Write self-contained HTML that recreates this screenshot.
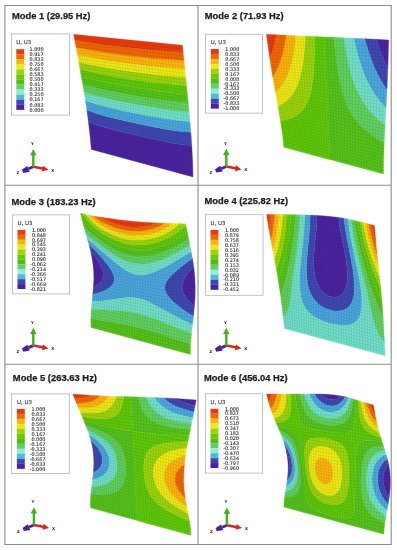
<!DOCTYPE html>
<html><head><meta charset="utf-8"><title>Mode shapes</title><style>
html,body{margin:0;padding:0;background:#fff;}
body{width:397px;height:550px;overflow:hidden;}
svg{display:block;}
.tt{font-family:"Liberation Sans",Arial,sans-serif;font-weight:bold;font-size:9.6px;fill:#1c1c1c;stroke:#1c1c1c;stroke-width:0.25px;}
.lg{font-family:"DejaVu Sans",sans-serif;font-size:5.5px;fill:#383838;stroke:#383838;stroke-width:0.12px;}
.lv{font-family:"DejaVu Sans",sans-serif;font-size:4.9px;fill:#383838;stroke:#383838;stroke-width:0.12px;text-anchor:end;}
.ax{font-family:"DejaVu Sans",sans-serif;font-weight:bold;font-size:3.9px;fill:#222;text-anchor:middle;}
.lb{fill:#fff;stroke:#b4b4b4;stroke-width:0.8;}
.tk{fill:none;stroke:#aaa;stroke-width:0.4;}
.mesh{fill:none;stroke:#000;stroke-opacity:0.17;stroke-width:0.42;}
.fr path{fill:none;stroke:#8c8c8c;stroke-width:1.1;}
</style></head><body>
<svg width="397" height="550" viewBox="0 0 397 550">
<text x="12.1" y="18.7" class="tt" textLength="78.3" lengthAdjust="spacingAndGlyphs">Mode 1 (29.95 Hz)</text>
<rect x="11.4" y="33.9" width="58.20" height="81.20" class="lb"/>
<text x="16.3" y="44.20" class="lg">U, U3</text>
<rect x="16.3" y="49.20" width="7.9" height="5.10" fill="#E83A10"/>
<rect x="16.3" y="54.25" width="7.9" height="5.10" fill="#F06800"/>
<rect x="16.3" y="59.30" width="7.9" height="5.10" fill="#FAB40C"/>
<rect x="16.3" y="64.35" width="7.9" height="5.10" fill="#EEE814"/>
<rect x="16.3" y="69.40" width="7.9" height="5.10" fill="#9CD40C"/>
<rect x="16.3" y="74.45" width="7.9" height="5.10" fill="#6CC800"/>
<rect x="16.3" y="79.50" width="7.9" height="5.10" fill="#50BC14"/>
<rect x="16.3" y="84.55" width="7.9" height="5.10" fill="#60D060"/>
<rect x="16.3" y="89.60" width="7.9" height="5.10" fill="#90ECD4"/>
<rect x="16.3" y="94.65" width="7.9" height="5.10" fill="#50B8E0"/>
<rect x="16.3" y="99.70" width="7.9" height="5.10" fill="#4048B0"/>
<rect x="16.3" y="104.75" width="7.9" height="5.10" fill="#4A20A8"/>
<text x="43.60" y="50.95" class="lv">1.000</text>
<text x="43.60" y="56.00" class="lv">0.917</text>
<text x="43.60" y="61.05" class="lv">0.833</text>
<text x="43.60" y="66.10" class="lv">0.750</text>
<text x="43.60" y="71.15" class="lv">0.667</text>
<text x="43.60" y="76.20" class="lv">0.583</text>
<text x="43.60" y="81.25" class="lv">0.500</text>
<text x="43.60" y="86.30" class="lv">0.417</text>
<text x="43.60" y="91.35" class="lv">0.333</text>
<text x="43.60" y="96.40" class="lv">0.250</text>
<text x="43.60" y="101.45" class="lv">0.167</text>
<text x="43.60" y="106.50" class="lv">0.083</text>
<text x="43.60" y="111.55" class="lv">0.000</text>
<path d="M24.2 49.20h1.8M24.2 54.25h1.8M24.2 59.30h1.8M24.2 64.35h1.8M24.2 69.40h1.8M24.2 74.45h1.8M24.2 79.50h1.8M24.2 84.55h1.8M24.2 89.60h1.8M24.2 94.65h1.8M24.2 99.70h1.8M24.2 104.75h1.8M24.2 109.80h1.8" class="tk"/>
<path fill="#4a1fa3" d="M32.75 165.51L27.97 167.54L29.06 170.12L33.85 168.09Z"/>
<path fill="#4a1fa3" d="M27.30 165.98L21.96 169.77L23.29 172.90L29.73 171.69Z"/>
<path fill="#d22a1a" d="M33.07 168.03L42.20 169.77L41.88 171.44L48.53 169.70L42.99 165.65L42.67 167.32L33.53 165.57Z"/>
<path fill="#3cb31c" d="M34.50 166.80L34.50 155.30L36.50 155.30L33.30 149.00L30.10 155.30L32.10 155.30L32.10 166.80Z"/>
<text x="32.40" y="144.80" class="ax">Y</text>
<text x="52.80" y="171.50" class="ax">X</text>
<text x="17.80" y="174.40" class="ax">Z</text>
<path fill="#4C24A0" stroke="#4C24A0" stroke-width="0.35" d="M91.3 149.4L90 135.6L88.4 121.7L97.6 125.2L105.8 127.8L122.7 132.2L145.6 137.6L161.8 141.1L172.9 143.3L181.5 144.6L191.8 145.5L192.6 161.3L193 176.9L91.3 149.4Z"/>
<path fill="#4048B0" stroke="#4048B0" stroke-width="0.35" d="M89.6 122.2L88.4 121.7L86.8 110.1L97.2 113.7L106.7 116.4L122.5 120.3L141.7 124.5L155.1 127.2L170.4 130L179.1 131.2L190.9 132.3L191.8 145.5L181.5 144.6L172.9 143.3L163.1 141.4L146.9 137.9L123.9 132.5L107 128.1L98.8 125.6L89.6 122.2Z"/>
<path fill="#4AA6DC" stroke="#4AA6DC" stroke-width="0.35" d="M86.8 110.1L85.4 100.6L97 104.2L106.5 106.8L121.2 110.2L139.2 114L152.7 116.5L168 119L178.1 120.4L190 121.5L190.9 132.3L179.1 131.2L170.4 130L155.1 127.2L141.7 124.5L122.5 120.3L106.7 116.4L97.2 113.7L86.8 110.1Z"/>
<path fill="#70DEC8" stroke="#70DEC8" stroke-width="0.35" d="M86.5 101L85.4 100.6L84 92.2L95.6 95.5L106.4 98.2L121.3 101.5L136.8 104.5L150.2 106.9L165.6 109.3L175.7 110.5L189.1 111.9L190 121.5L178.1 120.4L168 119L154 116.7L140.6 114.2L122.5 110.5L107.7 107.1L97 104.2L86.5 101Z"/>
<path fill="#60D060" stroke="#60D060" stroke-width="0.35" d="M85.2 92.5L84 92.2L82.7 84.3L95.5 87.7L106.4 90.2L120.1 93L134.3 95.7L147.8 97.9L163.2 100.1L174.8 101.5L188.3 102.9L189.1 111.9L175.7 110.5L165.6 109.3L151.6 107.1L138.1 104.7L121.3 101.5L107.6 98.5L96.8 95.8L85.2 92.5Z"/>
<path fill="#56C21C" stroke="#56C21C" stroke-width="0.35" d="M82.7 84.3L81.3 76.7L94.2 79.8L106.3 82.5L118.9 84.9L133.2 87.4L146.7 89.5L160.8 91.4L172.4 92.7L187.4 94.2L188.3 102.9L174.8 101.5L163.2 100.1L147.8 97.9L134.3 95.7L120.1 93L106.4 90.2L95.5 87.7L82.7 84.3Z"/>
<path fill="#60C80A" stroke="#60C80A" stroke-width="0.35" d="M81.3 76.7L80 69.3L92.9 72.2L105.1 74.7L117.7 77L132.1 79.4L145.7 81.3L159.8 83.1L186.6 85.7L187.4 94.2L172.4 92.7L160.8 91.4L146.7 89.5L133.2 87.4L118.9 84.9L106.3 82.5L94.2 79.8L81.3 76.7Z"/>
<path fill="#9CD40C" stroke="#9CD40C" stroke-width="0.35" d="M80 69.3L78.7 62L92.9 65L105.1 67.3L117.8 69.4L131 71.4L157.3 74.7L185.7 77.3L186.6 85.7L159.8 83.1L145.7 81.3L132.1 79.4L117.7 77L105.1 74.7L92.9 72.2L80 69.3Z"/>
<path fill="#EEE814" stroke="#EEE814" stroke-width="0.35" d="M78.7 62L77.4 54.8L103.9 59.7L128.5 63.4L154.9 66.4L184.9 69L185.7 77.3L157.3 74.7L131 71.4L117.8 69.4L105.1 67.3L92.9 65L78.7 62Z"/>
<path fill="#FAB40C" stroke="#FAB40C" stroke-width="0.35" d="M77.4 54.8L76 47.5L102.6 52L127.3 55.5L153.8 58.3L184 60.6L184.9 69L154.9 66.4L128.5 63.4L103.9 59.7L77.4 54.8Z"/>
<path fill="#F06800" stroke="#F06800" stroke-width="0.35" d="M76 47.5L74.7 40.1L101.4 44.4L126.2 47.6L151.4 49.9L183.1 52.1L184 60.6L153.8 58.3L127.3 55.5L102.6 52L76 47.5Z"/>
<path fill="#E83A10" stroke="#E83A10" stroke-width="0.35" d="M74.7 40.1L73.6 34.3L182.4 45.3L183.1 52.1L151.4 49.9L126.2 47.6L101.4 44.4L74.7 40.1Z"/>
<path class="mesh" d="M93.5 150L91.4 127.9L88.3 105.4L84.6 82.5L75.9 34.5M95.7 150.6L93.6 128.4L90.6 105.9L86.8 82.9L78.3 34.8M98 151.2L95.8 128.9L92.8 106.4L89.1 83.4L80.6 35M100.2 151.8L98.1 129.5L95.1 106.9L91.5 83.8L83 35.2M102.5 152.4L100.4 130L97.4 107.4L93.8 84.2L85.4 35.5M104.8 153L102.7 130.6L99.8 107.9L96.2 84.6L87.8 35.7M107.1 153.7L105 131.2L102.1 108.4L98.5 85L90.3 36M109.4 154.3L107.4 131.7L104.5 108.8L100.9 85.4L92.7 36.2M111.7 154.9L109.7 132.3L106.9 109.3L103.3 85.8L95.2 36.5M114.1 155.6L112.1 132.9L109.3 109.8L105.8 86.3L97.7 36.8M116.5 156.2L114.5 133.4L111.7 110.3L108.2 86.7L100.2 37M118.9 156.9L116.9 134L114.1 110.9L110.7 87.1L102.7 37.3M121.3 157.5L119.3 134.6L116.6 111.4L113.1 87.6L105.2 37.5M123.7 158.2L121.8 135.2L119 111.9L115.6 88L107.8 37.8M126.1 158.8L124.3 135.8L121.5 112.4L118.2 88.4L110.4 38.1M128.6 159.5L126.7 136.4L124 112.9L120.7 88.9L113 38.3M131 160.2L129.2 137L126.6 113.4L123.3 89.3L115.6 38.6M133.5 160.8L131.8 137.6L129.1 114L125.9 89.8L118.3 38.9M136 161.5L134.3 138.2L131.7 114.5L128.5 90.2L121 39.1M138.5 162.2L136.8 138.8L134.3 115L131.1 90.7L123.7 39.4M141.1 162.9L139.4 139.4L136.9 115.6L133.7 91.1L126.4 39.7M143.6 163.6L142 140L139.5 116.1L136.4 91.6L129.1 40M146.2 164.3L144.6 140.6L142.1 116.6L139.1 92L131.9 40.2M148.8 165L147.2 141.3L144.8 117.2L141.8 92.5L134.6 40.5M151.4 165.7L149.9 141.9L147.5 117.7L144.5 93L137.4 40.8M154.1 166.4L152.5 142.5L150.2 118.3L147.2 93.5L140.3 41.1M156.7 167.1L155.2 143.2L152.9 118.9L150 93.9L143.1 41.4M159.4 167.8L157.9 143.8L155.7 119.4L152.8 94.4L146 41.7M162.1 168.6L160.7 144.5L158.4 120L155.6 94.9L148.9 42M164.8 169.3L163.4 145.1L161.2 120.6L158.4 95.4L151.8 42.3M167.5 170L166.2 145.8L164 121.1L161.3 95.9L154.8 42.6M170.3 170.8L169 146.4L166.9 121.7L164.2 96.4L157.7 42.9M173 171.5L171.8 147.1L169.7 122.3L167.1 96.8L160.7 43.2M175.8 172.3L174.6 147.8L172.6 122.9L170 97.3L163.7 43.5M178.6 173L177.5 148.4L175.5 123.5L172.9 97.8L166.8 43.8M181.5 173.8L180.4 149.1L178.4 124.1L175.9 98.4L169.9 44.1M184.3 174.6L183.3 149.8L181.4 124.7L178.9 98.9L173 44.4M187.2 175.4L186.2 150.5L184.4 125.3L181.9 99.4L176.1 44.7M190.1 176.1L189.1 151.2L187.4 125.9L185 99.9L179.2 45M91 146.6L192.9 173.8M90.8 143.9L192.9 170.7M90.6 141.1L192.8 167.6M90.3 138.4L192.7 164.4M90 135.6L192.6 161.3M89.8 132.8L192.4 158.2M89.5 130.1L192.3 155M89.1 127.3L192.1 151.9M88.8 124.5L191.9 148.7M88.4 121.8L191.8 145.6M88.1 119L191.6 142.4M87.7 116.2L191.4 139.2M87.3 113.4L191.1 136.1M86.9 110.6L190.9 132.9M86.5 107.8L190.7 129.7M86.1 105L190.4 126.5M85.6 102.2L190.1 123.3M85.2 99.3L189.9 120M84.7 96.5L189.6 116.8M84.3 93.6L189.3 113.5M83.8 90.8L189 110.3M83.3 87.9L188.7 107M82.8 85L188.4 103.7M82.3 82.1L188.1 100.4M81.8 79.2L187.7 97.1M81.3 76.3L187.4 93.8M80.7 73.4L187.1 90.4M80.2 70.5L186.7 87M79.7 67.5L186.4 83.7M79.2 64.6L186 80.3M78.6 61.6L185.7 76.9M78.1 58.6L185.3 73.4M77.5 55.6L185 70M77 52.6L184.6 66.5M76.4 49.6L184.2 63M75.9 46.6L183.9 59.5M75.3 43.5L183.5 56M74.7 40.4L183.1 52.5M74.2 37.4L182.8 48.9"/>
<text x="204.8" y="18.7" class="tt" textLength="78.8" lengthAdjust="spacingAndGlyphs">Mode 2 (71.93 Hz)</text>
<rect x="205.6" y="34.3" width="56.90" height="78.80" class="lb"/>
<text x="210.85" y="44.00" class="lg">U, U3</text>
<rect x="210.85" y="49.00" width="7.9" height="5.02" fill="#E83A10"/>
<rect x="210.85" y="53.97" width="7.9" height="5.02" fill="#F06800"/>
<rect x="210.85" y="58.93" width="7.9" height="5.02" fill="#FAB40C"/>
<rect x="210.85" y="63.90" width="7.9" height="5.02" fill="#EEE814"/>
<rect x="210.85" y="68.87" width="7.9" height="5.02" fill="#9CD40C"/>
<rect x="210.85" y="73.83" width="7.9" height="5.02" fill="#6CC800"/>
<rect x="210.85" y="78.80" width="7.9" height="5.02" fill="#50BC14"/>
<rect x="210.85" y="83.77" width="7.9" height="5.02" fill="#60D060"/>
<rect x="210.85" y="88.73" width="7.9" height="5.02" fill="#90ECD4"/>
<rect x="210.85" y="93.70" width="7.9" height="5.02" fill="#50B8E0"/>
<rect x="210.85" y="98.67" width="7.9" height="5.02" fill="#4048B0"/>
<rect x="210.85" y="103.63" width="7.9" height="5.02" fill="#4A20A8"/>
<text x="239.35" y="50.75" class="lv">1.000</text>
<text x="239.35" y="55.72" class="lv">0.833</text>
<text x="239.35" y="60.68" class="lv">0.667</text>
<text x="239.35" y="65.65" class="lv">0.500</text>
<text x="239.35" y="70.62" class="lv">0.333</text>
<text x="239.35" y="75.58" class="lv">0.167</text>
<text x="239.35" y="80.55" class="lv">0.000</text>
<text x="239.35" y="85.52" class="lv">-0.167</text>
<text x="239.35" y="90.48" class="lv">-0.333</text>
<text x="239.35" y="95.45" class="lv">-0.500</text>
<text x="239.35" y="100.42" class="lv">-0.667</text>
<text x="239.35" y="105.38" class="lv">-0.833</text>
<text x="239.35" y="110.35" class="lv">-1.000</text>
<path d="M218.8 49.00h1.8M218.8 53.97h1.8M218.8 58.93h1.8M218.8 63.90h1.8M218.8 68.87h1.8M218.8 73.83h1.8M218.8 78.80h1.8M218.8 83.77h1.8M218.8 88.73h1.8M218.8 93.70h1.8M218.8 98.67h1.8M218.8 103.63h1.8M218.8 108.60h1.8" class="tk"/>
<path fill="#4a1fa3" d="M225.75 165.21L220.97 167.24L222.06 169.82L226.85 167.79Z"/>
<path fill="#4a1fa3" d="M220.30 165.68L214.96 169.47L216.29 172.60L222.73 171.39Z"/>
<path fill="#d22a1a" d="M226.07 167.73L235.20 169.47L234.88 171.14L241.53 169.40L235.99 165.35L235.67 167.02L226.53 165.27Z"/>
<path fill="#3cb31c" d="M227.50 166.50L227.50 155.00L229.50 155.00L226.30 148.70L223.10 155.00L225.10 155.00L225.10 166.50Z"/>
<text x="225.40" y="144.50" class="ax">Y</text>
<text x="245.80" y="171.20" class="ax">X</text>
<text x="210.80" y="174.10" class="ax">Z</text>
<path fill="#4C24A0" stroke="#4C24A0" stroke-width="0.35" d="M376.9 41.3L376.3 39.3L388.7 40L387.9 68L385.2 62.4L382.8 57.1L380 50L376.9 41.3Z"/>
<path fill="#4048B0" stroke="#4048B0" stroke-width="0.35" d="M365.4 41.7L364.6 38.7L376.3 39.3L382.1 55.3L385.2 62.4L387.9 68L387 89.7L383.5 84.7L380.2 79.2L377.4 73.8L374.9 68.5L372.6 63.2L370.1 56.5L365.4 41.7Z"/>
<path fill="#4AA6DC" stroke="#4AA6DC" stroke-width="0.35" d="M354 40L353.7 38.2L364.6 38.7L369.4 54.4L372 61.4L374.8 68.3L377.4 73.8L380.2 79.2L383.5 84.7L387 89.7L386 108L380 101.4L375.6 95.6L371 88.3L366.6 79.9L362.8 70.8L359.9 62.2L356.9 51.9L354 40Z"/>
<path fill="#70DEC8" stroke="#70DEC8" stroke-width="0.35" d="M344.5 44.8L343.4 37.8L353.7 38.2L356.9 51.9L359.9 62.2L362.8 70.8L366.4 79.5L371 88.3L375.6 95.6L380 101.4L386 108L385.1 125.1L377.7 119.1L373.9 115.4L370.3 111.5L367.2 107.8L364.6 104.1L361.6 99.5L358.7 94.1L356 88.3L354.2 83.8L350.7 73L347.8 61.3L344.5 44.8Z"/>
<path fill="#60D060" stroke="#60D060" stroke-width="0.35" d="M335.5 54.4L333.5 37.3L343.4 37.8L346.7 56.3L349.8 69.7L351.7 76.4L353.4 81.5L355.3 86.6L357.5 91.7L360.2 97L363.1 101.9L365.8 105.9L368.9 109.9L372 113.4L376.2 117.7L380.5 121.5L385.1 125.1L384.2 142.9L378.3 139.6L372.6 135.9L368.3 132.8L364 129.2L359.8 125.1L355.8 120.4L352.7 116.1L349.9 111.5L347.4 106.4L345.3 101.4L343 94.7L341.2 88.2L339.8 81.6L338.2 73.5L335.5 54.4Z"/>
<path fill="#56C21C" stroke="#56C21C" stroke-width="0.35" d="M283.8 147L330.2 159.5L324 36.9L333.5 37.3L336.7 63.7L338.2 73.5L339.8 81.6L341.7 89.8L343.6 96.4L345.9 103L348.1 108.1L351.3 113.9L354.4 118.6L358.4 123.5L362.6 127.9L366.9 131.6L372.6 135.9L378.3 139.6L384.2 142.9L383.6 159.9L383.5 174L283.8 147Z"/>
<path fill="#60C80A" stroke="#60C80A" stroke-width="0.35" d="M283.8 147L282.6 134.9L280.4 120.9L284.7 120.1L289 119L292.8 117.5L296.5 115.5L299.5 113.3L302.1 110.7L304.3 108L306.4 104.4L308.8 99.1L310.5 93.5L311.7 87.7L312.8 80.3L313.7 71.2L314.2 62L314.6 36.5L324 36.9L330.2 159.5L283.8 147Z"/>
<path fill="#9CD40C" stroke="#9CD40C" stroke-width="0.35" d="M280.4 120.9L277.9 106.3L281.2 104.6L284.2 102.6L287.3 100.1L289.7 97.7L291.7 95.2L294.3 91.3L295.8 88.6L297.6 84.5L299.1 80.3L300.3 76L302.5 65.6L304 53.4L305.3 36.1L314.6 36.5L314.2 60.4L313.8 69.7L313.1 77.3L312.2 84.8L311.1 90.6L309.7 96.4L308.2 100.5L306.4 104.6L304 108.4L301 111.8L297.8 114.6L294.5 116.6L290.1 118.6L285.8 119.9L280.4 120.9Z"/>
<path fill="#EEE814" stroke="#EEE814" stroke-width="0.35" d="M277.9 106.3L275.4 92.2L279.6 87.9L283.4 82.8L286.3 77.4L288.7 71.8L291 64.6L292.7 57.2L294.3 48.1L295.9 35.7L305.3 36.1L304 53.4L302.5 65.6L300.3 76L299.1 80.3L297.6 84.5L295.8 88.6L294.3 91.3L291.7 95.2L289.7 97.7L287.3 100.1L284.2 102.6L281.2 104.6L277.9 106.3Z"/>
<path fill="#FAB40C" stroke="#FAB40C" stroke-width="0.35" d="M275.4 92.2L272.7 76.9L275 73.3L277.1 69.2L278.9 65L280.5 60.6L282.2 54.9L283.7 49L286.3 35.2L295.9 35.7L294.3 48.1L292.7 57.2L291 64.6L288.7 71.8L286.3 77.4L283.4 82.8L279.6 87.9L275.4 92.2Z"/>
<path fill="#F06800" stroke="#F06800" stroke-width="0.35" d="M272.7 76.9L269.8 58.5L271.4 54.1L273.2 48.2L276.4 34.7L286.3 35.2L283.7 49L282.2 54.9L280.5 60.6L278.9 65L277.1 69.2L275 73.3L272.7 76.9Z"/>
<path fill="#E83A10" stroke="#E83A10" stroke-width="0.35" d="M269.8 58.5L266.4 34.2L276.4 34.7L273.2 48.2L271.4 54.1L269.8 58.5Z"/>
<path class="mesh" d="M286 147.6L284.9 136.8L283.4 126.1L274.2 70.4L269.1 34.4M288.2 148.2L287.1 137.4L285.7 126.6L276.8 70.6L271.8 34.5M290.4 148.8L289.4 137.9L288 127.1L279.3 70.9L274.5 34.6M292.6 149.3L291.6 138.5L290.3 127.6L281.9 71.1L277.2 34.8M294.8 150L293.9 139.1L292.6 128.1L284.6 71.4L280 34.9M297.1 150.6L294.9 128.7L287.2 71.7L282.8 35.1M299.3 151.2L297.2 129.2L289.8 71.9L285.6 35.2M301.6 151.8L299.6 129.7L292.5 72.2L288.4 35.3M303.9 152.4L301.9 130.2L295.2 72.5L291.2 35.5M306.2 153L304.3 130.8L297.9 72.7L294.1 35.6M308.5 153.7L306.7 131.3L300.6 73L297 35.7M310.9 154.3L309.1 131.8L299.9 35.9M313.2 154.9L311.5 132.4L302.9 36M315.6 155.6L314 132.9L305.8 36.1M318 156.2L316.4 133.5L308.8 36.3M320.4 156.9L318.9 134.1L311.8 36.4M322.8 157.5L314.8 36.5M325.2 158.2L317.9 36.7M327.7 158.9L320.9 36.8M330.2 159.5L324 36.9M332.6 160.2L327.1 37.1M335.1 160.9L330.2 37.2M337.7 161.6L333.3 37.3M340.2 162.2L339.4 138.7L336.5 37.5M342.8 162.9L342 139.3L339.6 37.6M345.4 163.6L344.6 139.9L342.8 37.7M347.9 164.3L347.3 140.5L346 37.9M350.6 165L350 141.1L349.2 38M353.2 165.8L352.7 141.7L352.4 38.2M355.9 166.5L355.5 142.3L355.7 78.4L355.7 38.3M358.5 167.2L358.2 142.9L358.8 78.7L358.9 38.5M361.2 167.9L361 143.5L361.9 79.1L362.1 38.6M363.9 168.7L363.8 144.2L365 79.4L365.4 38.8M366.7 169.4L366.6 144.8L368.1 79.7L368.7 38.9M369.4 170.2L369.4 145.4L371.3 80L372 39.1M372.2 170.9L372.3 146.1L374.5 80.3L375.3 39.3M375 171.7L374.9 159.4L375.2 146.7L377.6 80.6L378.6 39.4M377.8 172.4L377.8 160.1L378.1 147.4L380.9 81L382 39.6M380.7 173.2L380.6 160.8L381 148L384.1 81.3L385.3 39.8M283.6 144.3L383.5 170.9M283.3 141.6L383.5 167.8M283.1 138.9L383.5 164.7M282.7 136.3L383.5 161.5M282.4 133.6L383.6 158.3M282 130.9L383.7 155.1M281.6 128.3L383.8 151.9M281.2 125.6L383.9 148.7M280.8 122.9L384 145.4M280.3 120.2L384.2 142.2M279.9 117.5L384.4 138.9M279.4 114.8L384.5 135.6M279 112.1L384.7 132.3M278.5 109.4L384.9 128.9M278 106.7L385.1 125.6M277.5 103.9L385.2 122.3M277 101.2L385.4 118.9M276.5 98.4L385.6 115.6M276 95.7L385.8 112.2M275.5 92.9L386 108.8M275 90.1L386.2 105.5M274.5 87.3L386.3 102.1M274 84.4L386.5 98.7M273.5 81.6L386.7 95.3M273.1 78.7L386.9 91.9M272.6 75.9L387 88.5M272.1 73L387.2 85M271.6 70.1L387.3 81.6M271.2 67.2L387.5 78.2M270.7 64.3L387.6 74.7M270.2 61.3L387.8 71.3M269.8 58.4L387.9 67.9M269.4 55.4L388 64.4M268.9 52.4L388.1 60.9M268.5 49.4L388.2 57.5M268.1 46.4L388.3 54M267.6 43.4L388.4 50.5M267.2 40.3L388.5 47M266.8 37.3L388.6 43.5"/>
<text x="11.5" y="204.6" class="tt" textLength="84.2" lengthAdjust="spacingAndGlyphs">Mode 3 (183.23 Hz)</text>
<rect x="12.4" y="214.9" width="57.20" height="79.00" class="lb"/>
<text x="17.5" y="224.90" class="lg">U, U3</text>
<rect x="17.5" y="229.90" width="7.9" height="4.97" fill="#E83A10"/>
<rect x="17.5" y="234.83" width="7.9" height="4.97" fill="#F06800"/>
<rect x="17.5" y="239.75" width="7.9" height="4.97" fill="#FAB40C"/>
<rect x="17.5" y="244.68" width="7.9" height="4.97" fill="#EEE814"/>
<rect x="17.5" y="249.60" width="7.9" height="4.97" fill="#9CD40C"/>
<rect x="17.5" y="254.53" width="7.9" height="4.97" fill="#6CC800"/>
<rect x="17.5" y="259.45" width="7.9" height="4.97" fill="#50BC14"/>
<rect x="17.5" y="264.38" width="7.9" height="4.97" fill="#60D060"/>
<rect x="17.5" y="269.30" width="7.9" height="4.97" fill="#90ECD4"/>
<rect x="17.5" y="274.23" width="7.9" height="4.97" fill="#50B8E0"/>
<rect x="17.5" y="279.15" width="7.9" height="4.97" fill="#4048B0"/>
<rect x="17.5" y="284.07" width="7.9" height="4.97" fill="#4A20A8"/>
<text x="46.00" y="231.65" class="lv">1.000</text>
<text x="46.00" y="236.58" class="lv">0.848</text>
<text x="46.00" y="241.50" class="lv">0.697</text>
<text x="46.00" y="246.43" class="lv">0.545</text>
<text x="46.00" y="251.35" class="lv">0.393</text>
<text x="46.00" y="256.27" class="lv">0.241</text>
<text x="46.00" y="261.20" class="lv">0.090</text>
<text x="46.00" y="266.12" class="lv">-0.062</text>
<text x="46.00" y="271.05" class="lv">-0.214</text>
<text x="46.00" y="275.98" class="lv">-0.366</text>
<text x="46.00" y="280.90" class="lv">-0.517</text>
<text x="46.00" y="285.82" class="lv">-0.669</text>
<text x="46.00" y="290.75" class="lv">-0.821</text>
<path d="M25.4 229.90h1.8M25.4 234.83h1.8M25.4 239.75h1.8M25.4 244.68h1.8M25.4 249.60h1.8M25.4 254.53h1.8M25.4 259.45h1.8M25.4 264.38h1.8M25.4 269.30h1.8M25.4 274.23h1.8M25.4 279.15h1.8M25.4 284.07h1.8M25.4 289.00h1.8" class="tk"/>
<path fill="#4a1fa3" d="M32.75 344.31L27.97 346.34L29.06 348.92L33.85 346.89Z"/>
<path fill="#4a1fa3" d="M27.30 344.78L21.96 348.57L23.29 351.70L29.73 350.49Z"/>
<path fill="#d22a1a" d="M33.07 346.83L42.20 348.57L41.88 350.24L48.53 348.50L42.99 344.45L42.67 346.12L33.53 344.37Z"/>
<path fill="#3cb31c" d="M34.50 345.60L34.50 334.10L36.50 334.10L33.30 327.80L30.10 334.10L32.10 334.10L32.10 345.60Z"/>
<text x="32.40" y="323.60" class="ax">Y</text>
<text x="52.80" y="350.30" class="ax">X</text>
<text x="17.80" y="353.20" class="ax">Z</text>
<path fill="#4C24A0" stroke="#4C24A0" stroke-width="0.35" d="M93.4 286.7L93.9 278.1L93.7 271L92.6 261.2L90.8 251.5L94.8 256.4L99 262.8L100.6 266L102 269.1L102.9 272.1L103.1 273.5L103.2 276.4L102.9 277.7L101.9 280.4L101.1 281.6L99.6 283.2L97.6 284.7L95.5 285.9L93.4 286.7ZM182.6 290.4L182.2 288.2L182.2 285L182.9 281.9L184.1 278.9L185.8 276L187.9 273.1L190.4 270.2L193.8 267.1L194.8 277L195.2 286.6L195.1 296.4L194.4 306.4L189.9 302.3L186.6 298.5L184.3 294.9L183.5 293.2L182.6 290.4Z"/>
<path fill="#4048B0" stroke="#4048B0" stroke-width="0.35" d="M92.7 294.3L93.4 286.7L95.5 285.9L97.6 284.7L99.6 283.2L101.1 281.6L101.9 280.4L102.9 277.7L103.2 276.4L103.1 273.5L102.9 272.1L102 269.1L100.6 266L99 262.8L94.8 256.4L90.8 251.5L89 244.7L94.5 249.8L97.8 253.2L103.7 259.9L107.8 265L110.1 268.3L112.1 271.5L113.6 274.7L114.3 277.7L114.3 280.6L113.4 283.3L111.7 285.8L109 288.1L105.6 290.2L101.3 292.1L96.9 293.4L92.7 294.3ZM164.8 289L164.7 287.2L164.8 285.7L165.8 282.7L167.5 279.9L169.7 277.1L173.8 273.1L180.1 267.6L187.1 262.1L192.5 258.5L193.8 267.1L189.1 271.7L186.8 274.5L184.9 277.4L183.4 280.4L182.9 281.9L182.2 285L182.1 286.6L182.5 289.8L182.9 291.5L184.1 294.5L185.4 296.7L187.1 299.1L189.9 302.3L194.4 306.4L193.5 316.2L187.7 312.8L182.8 309.5L177.2 305.2L172.6 301.2L169 297.3L167.6 295.5L165.6 292L164.8 289Z"/>
<path fill="#4AA6DC" stroke="#4AA6DC" stroke-width="0.35" d="M92 301.6L92.7 294.3L96.9 293.4L101.3 292.1L105.6 290.2L109 288.1L111.7 285.8L113.4 283.3L114.3 280.6L114.3 277.7L114 276.2L112.9 273.1L111.2 269.9L109 266.6L105.1 261.6L99.4 254.9L94.5 249.8L89 244.7L87.3 239.1L98.1 248L111.6 259.6L121.6 267.5L126.7 270.7L130.5 272.7L134.3 274L138.1 274.8L142 275L145.8 274.6L149.7 273.6L156.2 271.1L162.9 267.9L172.5 262.8L191.2 251.4L192.5 258.5L187.1 262.1L181.8 266.3L175.3 271.7L171 275.8L168.5 278.5L166.5 281.3L165.2 284.2L164.7 287.2L165.1 290.4L166.5 293.8L167.6 295.5L170.7 299.2L174.8 303.1L179.9 307.3L186.1 311.7L193.5 316.2L192.5 324.8L179.6 318.6L149.6 302.4L144.4 300.1L139.3 298.5L136.7 298L133 297.5L126.9 297.6L102.8 300.9L97.4 301.4L92 301.6Z"/>
<path fill="#70DEC8" stroke="#70DEC8" stroke-width="0.35" d="M91.3 309.2L92 301.6L97.4 301.4L102.8 300.9L126.9 297.6L133 297.5L136.7 298L139.3 298.5L144.4 300.1L149.6 302.4L179.6 318.6L192.5 324.8L191.6 333.5L181.5 329.7L163.6 322.2L154.2 318.5L146.4 315.8L138.8 313.6L131.3 312.1L122.9 311L114.7 310.4L98.9 309.8L91.3 309.2ZM88.5 240.1L87.3 239.1L85.6 233L91.6 238.2L103.7 247.4L111.1 252.6L117.3 256.6L122.4 259.2L127.4 261.4L132.5 262.8L137.6 263.7L142.8 263.9L148.1 263.4L153.3 262.3L160.1 260.2L166.9 257.5L173.9 254.1L189.9 245L191.2 251.4L172.5 262.8L162.9 267.9L156.2 271.1L149.7 273.6L145.8 274.6L142 275L138.1 274.8L134.3 274L130.5 272.7L126.7 270.7L121.6 267.5L111.6 259.6L98.1 248L88.5 240.1Z"/>
<path fill="#60D060" stroke="#60D060" stroke-width="0.35" d="M90.8 318.5L91.3 309.2L98.9 309.8L114.7 310.4L124.1 311.1L132.6 312.3L140 314L147.7 316.2L155.6 319L181.5 329.7L191.6 333.5L190.6 344.1L179.3 340.6L157.5 333.4L138.3 327.8L130.9 326L118.9 323.5L99.5 320.2L90.8 318.5ZM86.8 234.2L85.6 233L83.8 226.2L89.8 232.2L94.7 236.2L103.3 242.4L111.9 247.8L118.2 251.1L124.5 253.7L129.6 255.2L136.1 256.3L142.6 256.5L147.9 256L154.5 254.7L161.4 252.7L166.9 250.6L172.6 248L178.3 244.9L188.7 238.7L189.9 245L173.9 254.1L166.9 257.5L160.1 260.2L153.3 262.3L148.1 263.4L142.8 263.9L137.6 263.7L132.5 262.8L127.4 261.4L122.4 259.2L117.3 256.6L111.1 252.6L103.7 247.4L92.4 238.9L86.8 234.2Z"/>
<path fill="#56C21C" stroke="#56C21C" stroke-width="0.35" d="M91 327.4L90.8 318.5L99.5 320.2L120.1 323.7L132.1 326.3L140.8 328.4L158.2 333.6L179.3 340.6L190.6 344.1L190.4 354.4L91 327.4ZM85 227.4L83.8 226.2L81.9 219L89.3 227L93.8 231.2L99.1 235.3L106.6 240.1L114.1 244.2L117.9 245.9L121.7 247.3L128 249.2L134.5 250.2L141.1 250.5L147.7 249.9L154.5 248.5L161.3 246.5L166.9 244.4L172.6 241.7L177 239.1L187.3 232.3L188.7 238.7L178.3 244.9L172.6 248L166.9 250.6L161.4 252.7L154.5 254.7L147.9 256L142.6 256.5L136.1 256.3L129.6 255.2L124.5 253.7L119.5 251.7L113.2 248.5L104.5 243.2L95.9 237.1L91.1 233.2L85 227.4Z"/>
<path fill="#60C80A" stroke="#60C80A" stroke-width="0.35" d="M83.1 220.3L81.9 219L80.5 213.4L82.1 213.6L87.2 220.3L91.3 224.7L96.3 229.1L102.5 233.4L110 237.7L117.5 241.1L123.9 243.2L127.8 244.1L131.7 244.7L135.6 245L139.6 245.1L146.2 244.6L153 243.3L161.3 240.8L167 238.5L172.7 235.4L177.1 232.5L186 225.5L187.3 232.3L177 239.1L172.6 241.7L166.9 244.4L160 247L153.1 248.9L146.4 250.1L139.7 250.5L133.2 250.1L126.8 248.9L120.4 246.9L114.1 244.2L106.6 240.1L99.1 235.3L93.8 231.2L89.3 227L83.1 220.3Z"/>
<path fill="#9CD40C" stroke="#9CD40C" stroke-width="0.35" d="M82.5 214.1L82.1 213.6L86.1 214.5L90 219.5L94.6 223.9L97.1 225.9L100.7 228.4L107.1 232.1L113.4 235.1L119.8 237.4L126.3 239L131.5 239.8L136.7 240.1L142.1 240L147.5 239.3L154.3 237.8L158.5 236.5L162.7 234.9L168.5 232L173.7 228.4L178.9 223.6L185.7 223.9L186 225.5L177.1 232.5L172.7 235.4L167 238.5L161.3 240.8L153 243.3L146.2 244.6L139.6 245.1L133 244.8L126.5 243.8L122.6 242.8L118.8 241.6L111.2 238.3L103.7 234.2L97.5 230.1L92.5 225.9L87.5 220.6L82.5 214.1Z"/>
<path fill="#EEE814" stroke="#EEE814" stroke-width="0.35" d="M87 215.7L86.1 214.5L89.7 215.3L92.9 218.7L97.9 222.8L104.2 226.7L110.6 229.8L115.7 231.8L120.8 233.4L126 234.6L131.3 235.3L136.6 235.5L142 235.3L146 234.8L151.5 233.6L157.1 232L162.8 229.6L167.1 227.2L171.8 223.4L178.9 223.6L174.2 228L169.9 231.1L165.6 233.6L159.9 236L153 238.1L146.1 239.5L139.4 240.1L132.8 240L126.3 239L119.8 237.4L113.4 235.1L107.1 232.1L100.8 228.5L95.6 224.7L90.8 220.3L87 215.7Z"/>
<path fill="#FAB40C" stroke="#FAB40C" stroke-width="0.35" d="M90.3 216L89.7 215.3L94.2 216.2L97.5 218.8L102.6 222L107.7 224.6L114.1 227.2L119.3 228.9L123.2 229.8L127.1 230.5L131.1 231L135.1 231.2L139.1 231.1L146 230.3L151.5 229.1L155.7 227.7L159.9 226L164.6 223.2L171.8 223.4L168.5 226.2L164.2 228.9L159.9 230.9L154.3 232.9L148.8 234.3L143.3 235.1L137.9 235.5L131.3 235.3L126 234.6L119.5 233L114.4 231.3L108 228.6L103 226L97.9 222.8L94.2 219.8L90.3 216Z"/>
<path fill="#F06800" stroke="#F06800" stroke-width="0.35" d="M95 216.9L94.2 216.2L101.1 217.3L108.6 221.1L116.4 224.1L124.3 226.1L130.9 227L137.7 227.1L144.5 226.4L151.5 224.8L156.4 222.9L164.6 223.2L161.4 225.2L157.1 227.2L152.9 228.7L148.7 229.8L144.6 230.6L140.5 231L136.4 231.2L131.1 231L127.1 230.5L121.9 229.5L118 228.5L112.8 226.7L107.7 224.6L102.6 222L98.8 219.7L95 216.9Z"/>
<path fill="#E83A10" stroke="#E83A10" stroke-width="0.35" d="M102.2 218L101.1 217.3L118.3 219.7L134 221.4L144.3 222.2L156.4 222.9L151.5 224.8L144.5 226.4L137.7 227.1L130.9 227L124.3 226.1L116.4 224.1L108.6 221.1L102.2 218Z"/>
<path class="mesh" d="M93.1 328L93 316.9L95.7 281.6L95.5 270.1L94 258.9L91.6 247.8L88.4 236.8L82.4 213.7M95.3 328.6L95.2 317.4L97.7 282.1L97.4 270.6L95.9 259.4L93.6 248.3L90.3 237.1L84.1 214M97.5 329.2L97.4 318L99.7 282.7L99.4 271.1L97.9 259.9L95.5 248.7L85.8 214.4M99.7 329.8L99.6 318.6L101.7 283.2L101.3 271.7L99.8 260.4L97.5 249.2L87.5 214.8M101.9 330.4L101.8 319.2L103.7 283.8L103.3 272.2L101.8 260.8L99.4 249.6L89.3 215.2M104.2 331L104 319.7L105.7 284.3L105.3 272.7L103.8 261.3L101.5 250L98.3 238.8L91 215.6M106.4 331.6L106.3 320.3L107.5 296.7L107.8 284.9L107.4 273.2L105.9 261.8L103.5 250.5L100.3 239.2L92.9 215.9M108.7 332.2L108.5 320.9L109.7 297.2L110 285.4L109.5 273.7L108 262.3L105.6 250.9L102.4 239.6L94.8 216.3M111 332.9L110.8 321.5L111.9 297.8L112.1 285.9L111.6 274.2L110.1 262.8L107.7 251.4L104.5 240L96.8 216.6M113.3 333.5L113.1 322.1L114.1 298.4L114.3 286.5L113.8 274.7L112.3 263.2L109.9 251.8L106.7 240.4L98.8 217M115.6 334.1L115.4 322.7L116.4 298.9L116.5 287L116 275.3L114.5 263.7L112 252.2L108.8 240.8L101 217.3M117.9 334.7L117.7 323.3L118.6 299.5L118.8 287.5L118.2 275.8L116.7 264.2L114.3 252.7L111 241.2L103.1 217.6M120.3 335.4L120.1 323.9L121 300L121.1 288L120.5 276.2L118.9 264.6L116.5 253.1L113.3 241.6L105.4 218M122.6 336L122.4 324.5L123.3 300.6L123.4 288.6L122.8 276.7L121.2 265.1L118.8 253.5L115.6 242L107.6 218.3M125 336.7L124.8 325.1L125.7 301.1L125.7 289.1L125.1 277.2L123.6 265.5L121.1 254L117.9 242.3L114.1 230.6L109.9 218.6M127.4 337.3L127.2 325.7L128 301.7L128.1 289.6L127.5 277.7L126 266L123.5 254.4L120.3 242.7L116.5 230.9L112.2 218.9M129.8 338L129.6 326.4L130.5 302.2L130.5 290.1L129.9 278.2L128.4 266.4L125.9 254.8L122.7 243.1L118.9 231.3L114.6 219.2M132.3 338.6L132.1 327L132.9 302.8L133 290.6L132.4 278.7L130.8 266.9L128.4 255.2L125.2 243.5L121.4 231.6L117 219.5M134.7 339.3L134.5 327.6L135.4 303.3L135.5 291.2L134.8 279.2L133.3 267.3L130.9 255.6L127.7 243.8L123.9 232L119.5 219.9M137.2 340L137 328.2L137.9 303.9L138 291.7L137.4 279.6L135.9 267.8L133.5 256L130.3 244.2L126.5 232.3L122 220.2M139.6 340.6L139.5 328.9L140.4 304.4L140.5 292.2L139.9 280.1L138.4 268.2L136.1 256.4L132.9 244.5L129.1 232.6L124.6 220.5M142.1 341.3L142 329.5L143 305L143.1 292.7L142.5 280.6L141.1 268.6L138.7 256.8L135.6 244.9L131.8 232.9L127.2 220.7M144.7 342L144.6 330.2L145.5 305.5L145.7 293.2L145.1 281L143.7 269L141.4 257.1L138.3 245.2L134.5 233.2L129.8 221M147.2 342.7L147.1 330.8L148.1 306.1L148.3 293.7L147.8 281.5L146.4 269.4L144.1 257.5L141 245.6L137.2 233.5L132.6 221.3M149.8 343.4L149.7 331.4L150.8 306.6L151 294.2L150.5 281.9L149.2 269.8L146.9 257.9L143.8 245.9L140.1 233.8L135.4 221.6M152.3 344.1L152.3 332.1L153.4 307.2L153.7 294.7L153.3 282.4L151.9 270.2L149.7 258.2L146.7 246.2L143 234.1L138.3 221.8M154.9 344.8L154.9 332.8L156.1 307.7L156.4 295.2L156 282.8L154.8 270.6L152.6 258.6L149.6 246.5L145.9 234.3L141.2 222M157.5 345.5L157.5 333.4L158.9 308.3L159.2 295.7L158.9 283.2L157.6 271L155.5 258.9L152.5 246.8L148.9 234.6L144.3 222.2M160.2 346.2L160.2 334.1L161.6 308.8L162 296.1L161.7 283.7L160.5 271.4L158.4 259.3L155.5 247.1L151.9 234.8L147.4 222.4M162.8 346.9L162.9 334.8L164.4 309.3L164.8 296.6L164.6 284.1L163.5 271.8L161.4 259.6L158.6 247.4L155 235.1L150.6 222.6M165.5 347.6L165.6 335.4L167.2 309.9L167.7 297.1L167.5 284.5L166.4 272.2L164.4 259.9L161.6 247.7L158.2 235.3L153.9 222.8M168.2 348.3L168.3 336.1L170 310.4L170.6 297.6L170.4 285L169.4 272.5L167.5 260.2L164.8 248L161.4 235.5L157.2 223M170.9 349.1L171 336.8L172.9 311L173.5 298.1L173.4 285.4L172.5 272.9L170.6 260.6L167.9 248.2L164.6 235.8L160.7 223.1M173.6 349.8L173.8 337.5L175.8 311.5L176.5 298.6L176.4 285.8L175.5 273.3L173.7 260.9L171.1 248.5L167.9 236L164.1 223.2M176.3 350.6L176.6 338.2L178.7 312.1L179.4 299L179.5 286.2L178.6 273.6L176.9 261.2L174.3 248.8L171.2 236.2L167.7 223.3M179.1 351.3L179.4 338.8L181.6 312.6L182.5 299.5L182.6 286.6L181.8 274L180.1 261.5L177.6 249L171.3 223.4M181.9 352.1L182.2 339.5L184.6 313.2L185.5 300L185.7 287L185 274.3L183.3 261.8L180.9 249.3L175 223.5M184.7 352.8L185.1 340.3L187.6 313.7L188.6 300.4L188.8 287.4L188.2 274.7L186.6 262.1L184.3 249.5L178.6 223.6M187.5 353.6L187.9 341L190.6 314.3L191.7 300.9L192 287.8L191.4 275L189.9 262.4L187.6 249.8L182.2 223.8M90.8 324.7L190.4 351.3M90.8 322L190.4 348.1M90.8 319.2L190.6 344.9M90.9 316.3L137 328.2L190.8 341.7M91 313.4L137.1 325.2L191.1 338.4M91.2 310.5L137.2 322.2L191.4 335.1M91.5 307.6L137.3 319.2L191.7 331.7M91.7 304.7L137.4 316.1L192.1 328.3M92 301.7L118.3 308.5L137.5 313.1L158.3 317.8L192.5 325M92.3 298.8L118.4 305.5L137.7 310L158.5 314.6L192.9 321.6M92.5 295.8L118.5 302.5L137.8 306.9L158.7 311.4L193.3 318.2M92.8 292.9L118.6 299.5L137.9 303.9L158.9 308.3L193.6 314.8M93.1 289.9L118.7 296.5L137.9 300.8L159 305.1L194 311.4M93.3 287L118.8 293.5L138 297.8L159.1 301.9L194.3 308.1M93.6 284L118.8 290.5L138 294.7L159.2 298.8L194.6 304.7M93.8 281.1L118.8 287.5L138 291.7L159.2 295.7L194.8 301.4M93.9 278.1L109.9 282.5L118.7 284.6L137.9 288.6L159.2 292.5L195 298.1M93.9 275.3L109.8 279.5L118.6 281.6L137.8 285.6L159.1 289.4L195.1 294.8M93.8 272.4L109.7 276.6L118.4 278.7L137.6 282.6L159 286.3L195.2 291.5M93.6 269.6L109.5 273.7L118.2 275.8L137.4 279.6L158.9 283.2L195.2 288.2M93.3 266.8L109.2 270.9L117.9 272.8L137.1 276.6L158.6 280.2L195.2 285M93 264L108.8 268L117.6 269.9L136.7 273.7L158.4 277.1L195.1 281.8M92.6 261.2L117.2 267L136.3 270.7L158 274.1L194.9 278.6M92.1 258.4L116.7 264.2L135.9 267.8L157.6 271L194.7 275.4M91.6 255.7L116.2 261.3L135.4 264.8L157.2 268L194.4 272.2M91.1 252.9L115.6 258.4L134.8 261.9L156.7 265L194 269M90.5 250.1L114.9 255.5L134.2 258.9L156.1 261.9L193.6 265.9M89.8 247.4L114.3 252.7L133.5 256L155.5 258.9L193.2 262.7M89 244.6L113.5 249.8L132.7 253L154.8 255.9L192.7 259.5M88.2 241.9L112.7 246.9L132 250.1L154.1 252.9L192.1 256.4M87.3 239.1L111.9 244.1L131.2 247.2L153.4 249.8L191.6 253.2M86.5 236.3L111 241.2L130.3 244.2L152.5 246.8L191 250M85.7 233.5L110.1 238.3L129.4 241.2L151.7 243.8L190.3 246.8M84.9 230.7L109.2 235.4L128.5 238.3L150.8 240.7L189.7 243.6M84.2 227.9L108.3 232.5L127.5 235.3L149.9 237.7L189 240.4M83.5 225L107.3 229.5L126.5 232.3L148.9 234.6L188.3 237.2M82.7 222.1L97.8 225.1L106.3 226.6L125.4 229.3L147.8 231.5L187.7 233.9M82 219.2L96.8 222.2L105.2 223.6L124.3 226.2L135 227.4L159.4 229.3L187 230.6M81.2 216.3L95.8 219.3L104.2 220.6L123.2 223.2L133.9 224.4L158.4 226.1L186.3 227.3"/>
<text x="204.5" y="203.9" class="tt" textLength="83.5" lengthAdjust="spacingAndGlyphs">Mode 4 (225.82 Hz)</text>
<rect x="205.4" y="214.7" width="57.65" height="80.60" class="lb"/>
<text x="210.5" y="224.90" class="lg">U, U3</text>
<rect x="210.5" y="229.90" width="7.9" height="5.03" fill="#E83A10"/>
<rect x="210.5" y="234.88" width="7.9" height="5.03" fill="#F06800"/>
<rect x="210.5" y="239.87" width="7.9" height="5.03" fill="#FAB40C"/>
<rect x="210.5" y="244.85" width="7.9" height="5.03" fill="#EEE814"/>
<rect x="210.5" y="249.83" width="7.9" height="5.03" fill="#9CD40C"/>
<rect x="210.5" y="254.82" width="7.9" height="5.03" fill="#6CC800"/>
<rect x="210.5" y="259.80" width="7.9" height="5.03" fill="#50BC14"/>
<rect x="210.5" y="264.78" width="7.9" height="5.03" fill="#60D060"/>
<rect x="210.5" y="269.77" width="7.9" height="5.03" fill="#90ECD4"/>
<rect x="210.5" y="274.75" width="7.9" height="5.03" fill="#50B8E0"/>
<rect x="210.5" y="279.73" width="7.9" height="5.03" fill="#4048B0"/>
<rect x="210.5" y="284.72" width="7.9" height="5.03" fill="#4A20A8"/>
<text x="239.00" y="231.65" class="lv">1.000</text>
<text x="239.00" y="236.63" class="lv">0.879</text>
<text x="239.00" y="241.62" class="lv">0.758</text>
<text x="239.00" y="246.60" class="lv">0.637</text>
<text x="239.00" y="251.58" class="lv">0.516</text>
<text x="239.00" y="256.57" class="lv">0.395</text>
<text x="239.00" y="261.55" class="lv">0.274</text>
<text x="239.00" y="266.53" class="lv">0.153</text>
<text x="239.00" y="271.52" class="lv">0.032</text>
<text x="239.00" y="276.50" class="lv">-0.089</text>
<text x="239.00" y="281.48" class="lv">-0.210</text>
<text x="239.00" y="286.47" class="lv">-0.331</text>
<text x="239.00" y="291.45" class="lv">-0.452</text>
<path d="M218.4 229.90h1.8M218.4 234.88h1.8M218.4 239.87h1.8M218.4 244.85h1.8M218.4 249.83h1.8M218.4 254.82h1.8M218.4 259.80h1.8M218.4 264.78h1.8M218.4 269.77h1.8M218.4 274.75h1.8M218.4 279.73h1.8M218.4 284.72h1.8M218.4 289.70h1.8" class="tk"/>
<path fill="#4a1fa3" d="M225.75 344.31L220.97 346.34L222.06 348.92L226.85 346.89Z"/>
<path fill="#4a1fa3" d="M220.30 344.78L214.96 348.57L216.29 351.70L222.73 350.49Z"/>
<path fill="#d22a1a" d="M226.07 346.83L235.20 348.57L234.88 350.24L241.53 348.50L235.99 344.45L235.67 346.12L226.53 344.37Z"/>
<path fill="#3cb31c" d="M227.50 345.60L227.50 334.10L229.50 334.10L226.30 327.80L223.10 334.10L225.10 334.10L225.10 345.60Z"/>
<text x="225.40" y="323.60" class="ax">Y</text>
<text x="245.80" y="350.30" class="ax">X</text>
<text x="210.80" y="353.20" class="ax">Z</text>
<path fill="#4C24A0" stroke="#4C24A0" stroke-width="0.35" d="M315.7 279.1L314.9 275.7L314.2 271.1L313.8 266.5L313.7 260.5L314.4 248.3L316.6 226.6L317 215.4L328.4 216.2L338.6 217.4L340.1 229.2L345.2 254.3L347.1 267.4L347.5 273.8L347.3 280.1L346.7 284.7L345.4 288.8L344.2 291.3L342.9 293.2L341.6 294.5L339.2 296.1L337.5 296.7L335.4 297.1L332.8 297L330.3 296.5L327.7 295.5L325.1 293.9L323.1 292.2L321.2 290.2L319.9 288.5L318 285.3L316.7 282L315.7 279.1Z"/>
<path fill="#4048B0" stroke="#4048B0" stroke-width="0.35" d="M307.8 284.8L307.2 280.8L306.7 276.3L306.5 270.3L306.6 264.6L307.3 253.9L309.6 229.4L310.2 215.1L317 215.4L316.6 226.6L314.2 249.8L313.7 262L313.9 268.1L314.4 272.7L315.2 277.3L316.7 282L318.9 286.9L321.2 290.2L322.5 291.7L323.8 292.9L326.4 294.8L330.3 296.5L332.8 297L335.4 297.1L337.5 296.7L339.2 296.1L341.7 294.4L343 293.1L344.7 290.5L345.4 288.8L346.3 286.2L347.2 281.6L347.5 275.4L347.2 269L346.5 262.6L345.5 256L340.7 232.6L339.6 225.9L338.6 217.4L343.9 218.3L345.8 231.9L351.7 262.3L353.3 272.2L354 278.7L354.5 286.7L354.2 293L353.8 296L353.1 299L351.4 303.3L350.4 304.8L349.2 306.4L346.9 308.4L344 309.9L341.5 310.7L337.6 311.1L333.8 310.9L330 310.1L326.2 308.8L322.4 306.9L319.8 305.2L317.3 303.1L314.3 299.8L312.1 296.6L310.3 293.1L309.2 290L307.8 284.8Z"/>
<path fill="#4AA6DC" stroke="#4AA6DC" stroke-width="0.35" d="M300.3 293.2L299.8 288.7L299.6 284.3L299.5 278.4L299.8 272.6L300.6 262.4L303.9 230.7L304.7 214.9L310.2 215.1L309.7 227.8L307.1 255.4L306.6 264.3L306.5 270.3L306.8 277.8L307.6 283.8L309.2 290L310.8 294.1L312.1 296.6L314.3 299.8L316 301.8L318.6 304.2L321.1 306.1L323.6 307.6L326.2 308.8L330 310.1L333.8 310.9L336.3 311.1L338.9 311.1L342.4 310.4L345 309.5L346.9 308.4L349.2 306.4L350.6 304.6L351.7 302.7L352.6 300.4L353.8 296L354.3 291.4L354.4 285.2L353.9 277.1L352.8 268.9L350.7 257.3L346.1 233.6L343.9 218.3L347.9 219.1L349.3 229.4L350.8 238L359.3 278.6L360.6 286.9L361.4 293.4L361.9 301.4L361.8 306.1L361.5 309.2L361 312.2L360.2 315.1L359.4 317L358.1 319.3L355.8 321.8L352.9 323.7L348.9 324.9L346.3 325.3L343.7 325.4L338.6 325.1L332.2 324L325.9 322.3L319.7 319.8L316 317.9L312.2 315.4L308.5 312.1L306 309L303.8 305.3L302.5 302.1L301.1 297.6L300.3 293.2Z"/>
<path fill="#70DEC8" stroke="#70DEC8" stroke-width="0.35" d="M284.3 328.4L283.1 316.2L285.1 314.7L286.1 313.5L287.1 311.8L288.5 308L289.6 302.7L292.6 279.1L296.6 250.2L298.2 238.2L299.2 227.4L299.8 214.8L304.7 214.9L303.9 230.7L300.3 265.3L299.7 274.1L299.5 281.3L299.8 288.7L300.8 296.1L302.5 302.1L304.7 306.9L306 309L308.5 312.1L311 314.5L314.7 317.1L318.4 319.2L322.2 320.9L327.2 322.7L332.2 324L337.3 325L341.1 325.3L345 325.4L348.9 324.9L351.6 324.2L354.2 323L356.8 320.9L358.1 319.3L359.4 317L360.2 315.1L361.3 310.7L361.9 304.6L361.7 296.7L360.8 288.5L359.3 278.6L350.8 238L348.4 222.5L347.9 219.1L351.3 219.8L353.4 233.7L356.3 247.5L367.1 292L374.2 322.1L376.2 328.9L378.6 334.3L380.1 336.8L381.6 338.8L384.5 341.9L385 355.7L284.3 328.4Z"/>
<path fill="#60D060" stroke="#60D060" stroke-width="0.35" d="M283.1 316.2L280.4 294.4L282.6 289.1L285.1 281.1L287.6 271.2L290.1 258.8L292.1 247L293.8 234.9L294.7 225.7L295.3 214.7L299.8 214.8L299.2 227.4L298.2 238.2L296.6 250.2L292.6 279.1L289.6 302.7L288.5 308L287.1 311.8L286.1 313.5L285.1 314.7L283.1 316.2ZM352.6 228.7L351.3 219.8L354.3 220.5L356.4 232.8L359 245L362.4 258.9L366.4 272.8L370.7 286.5L375.4 299.9L379.4 309.6L383.1 317.1L384.5 341.9L381.6 338.8L380.1 336.8L378.6 334.3L376.2 328.9L374.6 323.8L372.9 317.1L366.7 290.3L357.1 250.9L354.4 238.9L352.6 228.7Z"/>
<path fill="#56C21C" stroke="#56C21C" stroke-width="0.35" d="M280.4 294.4L278.2 280.1L280.7 273.6L282.8 266.9L284.7 259.8L286.6 251.1L288.2 242.3L289.4 233.3L290.4 224.1L291 214.7L295.3 214.7L294.7 225.7L293.8 234.9L292.1 247L290.1 258.8L287.6 271.2L285.1 281.1L282.6 289.1L280.4 294.4ZM356 230.4L354.3 220.5L357.2 221.2L359.1 231.8L361.4 242.4L364.1 252.9L367.2 263.5L370.7 274.1L374.1 283.2L377.7 292L381.9 300.8L383.1 317.1L380.1 311L376.5 302.6L372.3 291.2L368.5 279.8L364.4 265.9L361.1 253.7L358.2 241.5L356 230.4Z"/>
<path fill="#60C80A" stroke="#60C80A" stroke-width="0.35" d="M278.2 280.1L276.3 268.9L278.1 263.9L280 258L281.5 252.3L283.1 245.1L285.3 231.6L286.9 214.6L291 214.7L290.4 224.1L289.4 233.3L288.2 242.3L286.6 251.1L284.7 259.8L282.8 266.9L280.7 273.6L278.2 280.1ZM357.7 223.8L357.2 221.2L360 221.9L362.1 232.6L364.1 241.5L366.3 249.6L368.6 257.5L371.2 265.2L374.3 273.6L377.5 281.3L380.7 288.1L381.9 300.8L378.5 293.8L374.7 284.8L370.9 274.7L367.7 265.2L364.6 254.7L361.8 244.1L359.9 235.3L357.7 223.8Z"/>
<path fill="#9CD40C" stroke="#9CD40C" stroke-width="0.35" d="M276.3 268.9L274.5 259.1L277.5 249.2L279.7 239L281.4 228.5L282.8 214.6L286.9 214.6L285.3 231.6L283.1 245.1L281.5 252.3L280 258L278.1 263.9L276.3 268.9ZM361.2 228L360 221.9L362.8 222.5L366.4 238.7L369.8 251.3L374.1 264L377 271.3L379.5 276.8L380.7 288.1L377.5 281.3L374.4 273.7L369.5 260.4L367 252.1L365 245L362.9 236.3L361.2 228Z"/>
<path fill="#EEE814" stroke="#EEE814" stroke-width="0.35" d="M274.5 259.1L272.7 249.6L274.7 241.8L276.2 234.4L277.6 225.3L278.7 214.5L282.8 214.6L281.4 228.5L279.7 239L277.5 249.2L274.5 259.1ZM363 223.8L362.8 222.5L365.6 223.2L368.5 235.9L371.5 246.8L374.4 255.9L378.3 265.9L379.5 276.8L377 271.3L374.1 264L369.8 251.3L366.4 238.7L363 223.8Z"/>
<path fill="#FAB40C" stroke="#FAB40C" stroke-width="0.35" d="M272.7 249.6L270.8 239.6L272 234.3L273 228.3L274.7 214.5L278.7 214.5L277.6 225.3L276.2 234.4L274.7 241.8L272.7 249.6ZM366.7 228.1L365.6 223.2L368.5 223.9L372.6 240.4L374.7 247.8L377 254.5L378.3 265.9L375 257.6L372 248.6L369.4 239.6L366.7 228.1Z"/>
<path fill="#F06800" stroke="#F06800" stroke-width="0.35" d="M270.8 239.6L268.8 228.3L270.6 214.5L274.7 214.5L273 228.3L272 234.3L270.8 239.6ZM368.6 224.6L368.5 223.9L371.4 224.7L375.8 241.5L377 254.5L374.7 247.8L372.6 240.4L368.6 224.6Z"/>
<path fill="#E83A10" stroke="#E83A10" stroke-width="0.35" d="M268.8 228.3L266.6 214.4L270.6 214.5L268.8 228.3ZM372.4 228.5L371.4 224.7L374.4 225.4L375.8 241.5L372.4 228.5Z"/>
<path class="mesh" d="M286.4 329L284.3 307.1L281.5 284.8L279.8 273.5L271.6 226.7L269.8 214.5M288.7 329.6L286.7 307.6L284.1 285.2L282.5 273.8L276.7 238.9L272.9 214.5M290.9 330.2L289 308.1L286.7 285.5L283.5 262.5L276.1 214.5M293.1 330.8L290.5 297.2L288 274.3L279.3 214.6M295.4 331.4L293 297.7L290.7 274.6L282.6 214.6M297.6 332L295.5 298.1L293.5 274.9L285.8 214.6M299.9 332.7L298.1 298.5L296.3 275.2L295 263.4L289 214.7M302.2 333.3L300.6 298.9L299 275.5L297.9 263.6L292.3 214.7M304.5 333.9L303.2 299.3L301.8 275.8L300.8 263.8L295.5 214.7M306.9 334.5L305.3 287.9L304.6 276L302.5 252L298.7 214.8M309.2 335.2L308.7 323.8L308 288.3L307.4 276.4L305.5 252.2L301.9 214.9M311.6 335.8L311.1 324.3L310.6 288.7L310.2 276.7L308.4 252.4L305 214.9M314 336.5L313.6 324.9L313.3 289.1L312.9 277L311.3 252.6L308.1 215M316.4 337.1L316 325.5L315.9 289.5L315.6 277.4L314.2 252.9L311.2 215.1M318.8 337.8L318.4 326.1L318.6 289.9L318.4 277.7L317.1 253.1L314.2 215.2M321.2 338.4L320.9 326.8L321.2 290.4L321.1 278.1L319.9 253.4L317.2 215.4M323.6 339.1L323.4 327.4L323.8 290.8L323.7 278.5L322.7 253.7L320.1 215.6M326.1 339.8L325.9 328L326.4 291.3L326.4 278.9L325.4 254L322.9 215.7M328.6 340.4L328.4 328.6L329 291.8L329 279.3L328.1 254.4L325.7 216M331.1 341.1L330.9 329.3L331.6 292.3L331.6 279.8L330.8 254.8L328.4 216.2M333.6 341.8L333.4 329.9L334.2 292.8L334.2 280.3L333.3 255.2L331 216.5M336.1 342.5L335.9 330.6L336.7 293.4L336.7 280.8L335.9 255.6L333.5 216.8M338.7 343.2L338.5 331.2L339.2 293.9L339.2 281.3L338.3 256L336 217.1M341.3 343.9L341.1 331.9L341.7 294.5L341.7 281.9L340.8 256.5L338.5 217.4M343.9 344.6L343.7 332.6L344.2 295.1L344.1 282.5L343.2 257L340.8 217.8M346.5 345.3L346.3 333.2L346.7 295.7L346.6 283.1L345.6 257.6L343.1 218.2M349.1 346L348.9 333.9L349.2 296.4L349 283.7L347.9 258.1L345.4 218.6M351.7 346.7L351.5 334.6L351.7 297L351.4 284.3L350.2 258.7L347.7 219M354.4 347.4L354.2 335.3L354.2 297.7L353.9 285L352.5 259.3L349.9 219.5M357.1 348.1L356.6 298.4L356.3 285.7L354.8 260L352 220M359.8 348.9L359.4 311.7L358.7 286.4L358 273.5L354.2 220.5M362.5 349.6L361.9 312.5L361.1 287.1L360.4 274.2L356.4 221M365.3 350.4L364.5 313.2L363.6 287.8L358.6 221.5M368 351.1L367.1 313.9L366 288.5L360.8 222M370.8 351.9L369.8 314.7L368.5 289.2L363 222.6M373.6 352.6L372.4 315.4L371 290L365.2 223.1M376.4 353.4L375.6 328.7L374.4 303.5L372.4 277.8L367.4 223.7M379.3 354.2L378.4 329.5L377 304.3L376 291.5L372.2 252L369.7 224.2M382.2 354.9L381.2 330.2L379.6 305L372 224.8M284 325.7L385 352.6M283.8 323L384.9 349.6M283.5 320.3L330.9 332.3L384.7 346.5M283.2 317.6L330.9 329.3L384.6 343.4M282.9 314.8L330.9 326.2L384.5 340.3M282.6 312.1L311 318.5L330.9 323.2L351.5 328.4L384.3 337.2M282.3 309.4L311 315.5L331 320.2L351.6 325.3L384.2 334.1M281.9 306.6L311 312.6L331.1 317.1L351.6 322.2L384 331M281.6 303.9L311 309.6L331.2 314L351.6 319.1L383.8 327.9M281.3 301.1L310.9 306.6L331.2 310.9L351.6 316L383.6 324.8M280.9 298.4L310.9 303.7L331.3 307.8L351.7 312.8L383.4 321.6M280.5 295.6L310.9 300.7L331.4 304.7L351.7 309.7L383.2 318.5M280.1 292.8L310.8 297.7L331.5 301.6L351.7 306.5L383 315.3M279.8 290.1L310.8 294.7L331.5 298.5L351.7 303.4L382.8 312.2M279.3 287.3L310.7 291.7L331.6 295.4L341.7 297.7L351.7 300.2L382.6 309M278.9 284.5L310.6 288.7L331.6 292.3L341.7 294.5L351.7 297L382.3 305.8M278.5 281.7L310.5 285.7L321.2 287.3L331.6 289.2L341.7 291.4L351.6 293.9L382 302.6M278 278.9L310.4 282.7L321.2 284.2L331.6 286.1L341.7 288.2L351.6 290.7L381.8 299.4M277.6 276.1L310.3 279.7L321.1 281.2L331.6 282.9L341.7 285.1L351.5 287.5L381.5 296.2M277.1 273.3L310.2 276.7L321.1 278.1L331.6 279.8L341.7 281.9L351.4 284.3L381.2 293M276.6 270.4L310 273.7L321 275L331.6 276.7L341.6 278.7L351.3 281.2L380.8 289.8M276.1 267.6L309.8 270.6L320.9 271.9L331.5 273.6L341.6 275.6L351.2 278L380.5 286.6M275.6 264.8L309.6 267.6L320.8 268.9L331.4 270.4L341.5 272.4L351.1 274.8L380.2 283.3M275 261.9L309.4 264.6L320.6 265.8L331.3 267.3L341.4 269.3L351 271.6L379.8 280M274.5 259.1L309.2 261.6L320.5 262.7L331.2 264.2L341.2 266.1L350.8 268.4L379.5 276.8M273.9 256.2L308.9 258.5L320.3 259.6L331.1 261L341.1 262.9L350.6 265.2L379.1 273.5M273.4 253.3L308.7 255.5L320.1 256.5L330.9 257.9L341 259.7L350.4 262L378.7 270.2M272.8 250.4L308.4 252.4L319.9 253.4L330.8 254.8L340.8 256.5L350.2 258.7L378.4 266.9M272.3 247.5L308.2 249.4L319.7 250.3L330.6 251.6L340.6 253.3L350 255.5L378 263.5M271.7 244.6L307.9 246.3L319.5 247.2L330.4 248.4L340.4 250.1L349.8 252.2L377.6 260.2M271.2 241.6L307.6 243.2L319.3 244.1L330.2 245.3L340.2 246.9L349.6 249L377.3 256.8M270.6 238.7L307.3 240.1L319 240.9L330 242.1L340 243.7L349.4 245.7L376.9 253.4M270.1 235.7L307 237L318.8 237.8L329.8 238.9L339.8 240.5L349.1 242.4L358.1 244.7L376.6 249.9M269.6 232.7L306.7 233.9L318.5 234.6L329.5 235.7L339.6 237.2L348.9 239.1L357.9 241.4L376.2 246.5M269 229.7L306.4 230.8L318.3 231.5L329.3 232.5L339.4 234L348.7 235.8L357.6 238L375.9 243M268.5 226.7L306.1 227.6L318.1 228.3L329.1 229.3L339.2 230.7L348.5 232.5L375.6 239.5M268 223.6L305.8 224.5L317.8 225.1L328.9 226L339 227.4L348.2 229.2L375.3 236M267.6 220.6L305.6 221.3L317.6 221.9L328.7 222.8L338.8 224.1L348 225.8L375 232.5M267.1 217.5L305.3 218.1L317.4 218.6L328.6 219.5L338.6 220.8L347.8 222.4L374.7 228.9"/>
<text x="12.8" y="381.3" class="tt" textLength="84.2" lengthAdjust="spacingAndGlyphs">Mode 5 (263.63 Hz)</text>
<rect x="11.4" y="393.9" width="57.90" height="79.60" class="lb"/>
<text x="16.9" y="403.90" class="lg">U, U3</text>
<rect x="16.9" y="408.90" width="7.9" height="5.04" fill="#E83A10"/>
<rect x="16.9" y="413.89" width="7.9" height="5.04" fill="#F06800"/>
<rect x="16.9" y="418.88" width="7.9" height="5.04" fill="#FAB40C"/>
<rect x="16.9" y="423.88" width="7.9" height="5.04" fill="#EEE814"/>
<rect x="16.9" y="428.87" width="7.9" height="5.04" fill="#9CD40C"/>
<rect x="16.9" y="433.86" width="7.9" height="5.04" fill="#6CC800"/>
<rect x="16.9" y="438.85" width="7.9" height="5.04" fill="#50BC14"/>
<rect x="16.9" y="443.84" width="7.9" height="5.04" fill="#60D060"/>
<rect x="16.9" y="448.83" width="7.9" height="5.04" fill="#90ECD4"/>
<rect x="16.9" y="453.82" width="7.9" height="5.04" fill="#50B8E0"/>
<rect x="16.9" y="458.82" width="7.9" height="5.04" fill="#4048B0"/>
<rect x="16.9" y="463.81" width="7.9" height="5.04" fill="#4A20A8"/>
<text x="45.40" y="410.65" class="lv">1.000</text>
<text x="45.40" y="415.64" class="lv">0.833</text>
<text x="45.40" y="420.63" class="lv">0.667</text>
<text x="45.40" y="425.62" class="lv">0.500</text>
<text x="45.40" y="430.62" class="lv">0.333</text>
<text x="45.40" y="435.61" class="lv">0.167</text>
<text x="45.40" y="440.60" class="lv">0.000</text>
<text x="45.40" y="445.59" class="lv">-0.167</text>
<text x="45.40" y="450.58" class="lv">-0.333</text>
<text x="45.40" y="455.57" class="lv">-0.500</text>
<text x="45.40" y="460.57" class="lv">-0.667</text>
<text x="45.40" y="465.56" class="lv">-0.833</text>
<text x="45.40" y="470.55" class="lv">-1.000</text>
<path d="M24.8 408.90h1.8M24.8 413.89h1.8M24.8 418.88h1.8M24.8 423.88h1.8M24.8 428.87h1.8M24.8 433.86h1.8M24.8 438.85h1.8M24.8 443.84h1.8M24.8 448.83h1.8M24.8 453.82h1.8M24.8 458.82h1.8M24.8 463.81h1.8M24.8 468.80h1.8" class="tk"/>
<path fill="#4a1fa3" d="M33.35 523.71L28.57 525.74L29.66 528.32L34.45 526.29Z"/>
<path fill="#4a1fa3" d="M27.90 524.18L22.56 527.97L23.89 531.10L30.33 529.89Z"/>
<path fill="#d22a1a" d="M33.67 526.23L42.80 527.97L42.48 529.64L49.13 527.90L43.59 523.85L43.27 525.52L34.13 523.77Z"/>
<path fill="#3cb31c" d="M35.10 525.00L35.10 513.50L37.10 513.50L33.90 507.20L30.70 513.50L32.70 513.50L32.70 525.00Z"/>
<text x="33.00" y="503.00" class="ax">Y</text>
<text x="53.40" y="529.70" class="ax">X</text>
<text x="18.40" y="532.60" class="ax">Z</text>
<path fill="#4C24A0" stroke="#4C24A0" stroke-width="0.35" d="M93.9 462.7L93.7 456.4L93 449.9L94.3 452.4L94.8 453.9L95.4 456.8L95.2 459.6L94.8 460.9L93.9 462.7ZM176.9 399.2L175.6 398.5L196.2 399.9L195 406L184.4 402.6L179.9 400.8L176.9 399.2Z"/>
<path fill="#4048B0" stroke="#4048B0" stroke-width="0.35" d="M93.3 472.6L93.9 462.7L94.8 460.9L95.2 459.6L95.4 456.8L94.8 453.9L94.3 452.4L93 449.9L92.1 445.3L90.9 440.8L95.2 444.8L96.9 446.8L99.1 449.8L100 451.4L101.4 454.5L101.9 456L102.4 459L102.3 461.8L102 463.1L101.1 465.8L100.4 467L98.5 469.2L97 470.5L95.4 471.5L93.3 472.6ZM164 398.2L163.6 397.9L175.6 398.5L178.4 400L182.9 402L187.4 403.7L195 406L193.9 412L183.2 409.1L178.7 407.5L175.8 406.3L172.8 404.8L169.9 403L166.9 400.8L164 398.2Z"/>
<path fill="#4AA6DC" stroke="#4AA6DC" stroke-width="0.35" d="M92.4 479.8L93.3 472.6L95.4 471.5L97 470.5L98.5 469.2L100.4 467L101.1 465.8L102 463.1L102.3 461.8L102.4 459L101.9 456L101.4 454.5L100 451.4L98.2 448.4L96.7 446.5L93.5 443.1L90.9 440.8L89.1 434.7L93.8 437.8L97.4 440.6L100.6 443.5L103.7 447L106 450.3L107.7 453.5L108.8 456.6L109.6 461.1L109.4 465.4L108.7 468.1L107.5 470.7L105.7 473.2L103.2 475.5L99.9 477.4L96.7 478.7L92.4 479.8ZM155.6 399.6L154.2 397.5L163.6 397.9L166.9 400.8L169.9 403L172.8 404.8L175.8 406.3L178.7 407.5L183.2 409.1L193.9 412L192.7 418L185.1 416.3L179.1 414.7L173.1 412.7L169 410.8L165.4 408.7L161.5 405.8L158.6 403.1L155.6 399.6Z"/>
<path fill="#70DEC8" stroke="#70DEC8" stroke-width="0.35" d="M91.6 486.7L92.4 479.8L96.7 478.7L101 476.8L103.2 475.5L104.6 474.4L106.7 472L108.2 469.5L109.1 466.8L109.6 464L109.6 461.1L109.2 458.2L108.3 455.1L106.9 451.9L104.9 448.7L102.2 445.3L98.7 441.8L94.2 438.1L89.1 434.7L87.3 429.6L93.8 432.9L100.5 436.9L105.6 440.7L109.3 444.3L112.1 447.7L114.8 452.6L116.5 457.4L117.1 460.5L117.4 463.5L117.5 466.4L117.2 469.3L116.2 473.4L115 476L114.3 477.3L113.4 478.5L111.3 480.7L108 483L103.6 484.8L98.1 486.1L91.6 486.7ZM147.4 400.4L146 397.2L154.2 397.5L157.1 401.4L160.3 404.8L164.4 408.1L168.7 410.7L173.1 412.7L179.1 414.7L185.1 416.3L192.7 418L191.5 423.8L180.9 422L173.5 420.3L167.6 418.5L161.9 415.8L157.6 413.1L155.7 411.6L153.2 409.2L150.3 405.5L147.4 400.4Z"/>
<path fill="#60D060" stroke="#60D060" stroke-width="0.35" d="M90.8 494.2L91.6 486.7L95.9 486.4L99.2 485.9L104.7 484.4L106.9 483.5L109.7 482L111.3 480.7L113.4 478.5L115 476L116.6 472L117.4 467.8L117.4 463.5L116.8 458.9L115.5 454.2L113.1 449.4L110.2 445.3L106.4 441.4L101.5 437.6L94.3 433.2L87.3 429.6L85.5 425L97.8 429.7L105.7 433.4L110.7 436.2L113.4 438.2L115.7 440.1L117.4 441.8L119.7 444.8L121 447L122.6 450.3L123.7 453.5L124.6 456.7L125.2 459.8L125.7 464.4L125.9 468.9L125.8 473.3L125.2 477.6L124.6 480.4L123.7 483.1L122.4 485.7L120.9 487.8L119.4 489.4L117.6 490.8L114.4 492.4L111.9 493.2L108.5 494L104 494.5L100.6 494.6L96.2 494.5L90.8 494.2ZM139.2 400.7L138.3 397L146 397.2L148.5 402.5L150.7 406L153.7 409.7L157.6 413.1L160.4 415L163.3 416.6L166.2 417.9L170.6 419.5L175 420.7L179.4 421.7L191.5 423.8L190.3 429.5L176.8 428.1L168 426.7L163.7 425.7L159.4 424.4L156.6 423.3L153.7 421.9L149.5 419.1L146.7 416.3L145 414.2L143.8 412.3L142 408.9L140.7 405.5L139.2 400.7Z"/>
<path fill="#56C21C" stroke="#56C21C" stroke-width="0.35" d="M90.4 507.8L90.3 502.3L90.8 494.2L97.3 494.6L101.8 494.6L106.2 494.3L109.6 493.8L113 492.9L116.4 491.5L118.7 490L120.9 487.8L122.1 486.3L123.1 484.3L124.2 481.8L124.9 479L125.5 476.2L125.9 471.9L125.7 464.4L125.2 459.8L124.6 456.7L123.7 453.5L122.6 450.3L120 445.3L117 441.4L113.2 438L110.6 436.2L106.9 434L97.8 429.7L85.5 425L83.8 420.6L100.2 424.9L113.6 428L127.5 430.6L131.4 431.1L132.7 431L131 396.8L138.3 397L139.6 402.1L140.8 405.9L142.3 409.5L143.8 412.3L145.2 414.5L148.1 417.8L150.5 419.8L152.3 421.1L155.2 422.6L158 423.8L162.3 425.3L166.6 426.4L175.3 427.9L190.3 429.5L189.1 435.4L171.2 434.8L157 434L146 433.1L134 431.5L132.8 432.5L137.1 519L138.4 520.8L191 535.1L90.4 507.8Z"/>
<path fill="#60C80A" stroke="#60C80A" stroke-width="0.35" d="M83.8 420.6L82 416.4L93.6 418.2L101.9 418.9L105.5 418.8L109.1 418.3L111.5 417.7L114 416.7L116.3 415.1L117.8 413.7L118.9 412.3L120.6 409.3L121.8 406.2L122.6 403L123.7 396.6L131 396.8L132.7 431L131.4 431.1L127.5 430.6L113.6 428L100.2 424.9L83.8 420.6ZM138.4 520.8L137.1 519L132.8 432.5L134 431.5L146 433.1L157 434L171.2 434.8L189.1 435.4L187.9 441.5L179.8 441.9L172.6 442.5L163 443.8L158.8 444.7L156.1 445.6L153.4 446.8L150.7 448.5L149 450.1L147.8 451.5L146.8 453L145.5 455.9L144.6 458.9L144 461.9L143.7 464.9L143.6 469.6L144.3 477.4L145.2 482.2L146 485.4L147.2 488.7L148.7 492L149.9 494.4L151.9 497.3L154.1 500.1L157.1 503.1L161 506.3L165.2 509.2L170.8 512.5L176.5 515.3L182.2 517.9L189.5 520.9L190.6 529L191 535.1L138.4 520.8Z"/>
<path fill="#9CD40C" stroke="#9CD40C" stroke-width="0.35" d="M82 416.4L80.2 412.2L89.4 412.8L95.3 412.8L98.8 412.4L101.2 411.9L103.6 411.2L105.9 410.2L109.5 407.8L111.8 405.3L114.1 401.7L115.3 399.3L116.3 396.4L123.7 396.6L122.6 403L121.8 406.2L120.6 409.3L118.9 412.3L117.8 413.7L116.3 415.1L114 416.7L111.5 417.7L109.1 418.3L105.5 418.8L101.9 418.9L93.6 418.2L82 416.4ZM145.5 483.6L144.5 479L143.8 472.7L143.6 468L143.9 463.4L144.6 458.9L145.6 455.6L146.9 453L147.8 451.5L149.4 449.7L152 447.6L154.5 446.2L157.5 445.1L161.4 444.1L166.4 443.2L172.6 442.5L179.8 441.9L187.9 441.5L186.7 448L177.8 449.5L173.4 450.6L169.1 451.9L166.2 453L163.4 454.4L160.7 456.2L159.2 457.5L156.7 460.5L155.4 462.8L154.6 464.7L153.6 469.2L153.4 473.9L154 478.7L155.4 483.7L157.7 488.9L160.6 493.3L163.1 496.3L165 498.3L167.8 500.8L172.1 504.1L179.3 508.8L188.1 513.6L189.5 520.9L179.3 516.7L171.1 512.6L163.8 508.3L158.3 504.1L154.1 500.1L150.6 495.5L147.9 490.4L146.6 487L145.5 483.6Z"/>
<path fill="#EEE814" stroke="#EEE814" stroke-width="0.35" d="M80.2 412.2L78.4 407.9L84.1 407.9L88.7 407.6L92.2 407.2L95.8 406.4L99.3 405L102.8 402.8L105.1 400.7L106.3 399.4L108.5 396.2L116.3 396.4L115.3 399.3L114.1 401.7L111.8 405.3L110.3 407L108.7 408.4L107.1 409.5L104.8 410.7L100.2 412.1L95.3 412.8L89.4 412.8L80.2 412.2ZM154.7 481.8L153.7 477.1L153.4 473.9L153.4 470.8L153.8 467.7L154.6 464.7L155.9 461.7L157.9 458.9L159.2 457.5L160.7 456.2L163.4 454.4L166.2 453L169.1 451.9L173.4 450.6L177.8 449.5L186.7 448L185.5 455.3L180.3 457L175 459.5L170.9 462.2L168.1 464.8L167 466.2L166.1 467.7L164.8 470.7L164.1 473.8L164 476.9L164.4 480.2L165.4 483.6L167 487.1L168.9 490.3L172.3 494.6L176.4 498.7L181.8 503.2L186.6 506.5L188.1 513.6L181 509.9L174.9 506.1L170 502.5L165 498.3L161.4 494.4L158.8 490.7L156.3 485.9L154.7 481.8Z"/>
<path fill="#FAB40C" stroke="#FAB40C" stroke-width="0.35" d="M78.4 407.9L76.6 403.4L84.6 402.7L88 402.1L90.4 401.5L92.7 400.7L95 399.5L97.3 398L99.9 395.8L108.5 396.2L106.3 399.4L104 401.9L101.6 403.7L98.1 405.5L94.6 406.7L89.9 407.5L85.3 407.8L78.4 407.9ZM164.4 479.8L164 475.3L164.4 472.2L165.3 469.2L166.1 467.7L168.1 464.8L171 462.1L175 459.5L180.3 457L185.5 455.3L184.4 464.5L181.6 466.5L180 467.9L177.6 470.7L176.7 472.2L175.6 475.3L175.2 476.9L175.1 480.1L175.7 483.5L176.2 485.2L177.9 488.8L180.6 493L182.1 494.8L185.2 498L186.6 506.5L181.8 503.2L177.7 499.9L174.2 496.7L170.7 492.7L168.9 490.3L167 487.1L165.4 483.6L164.4 479.8Z"/>
<path fill="#F06800" stroke="#F06800" stroke-width="0.35" d="M76.6 403.4L74.7 398.8L80.4 398L83.8 397.3L87.3 396.2L89.5 395.3L99.9 395.8L97.3 398L95 399.5L92.7 400.7L90.4 401.5L88 402.1L84.6 402.7L76.6 403.4ZM176 484.5L175.3 481.8L175.1 478.5L175.6 475.3L176 473.7L177.6 470.7L178.7 469.3L181.6 466.5L184.4 464.5L183.9 472.4L183.7 481L184.1 489.1L185.2 498L181.9 494.5L179 490.7L177 487L176 484.5Z"/>
<path fill="#E83A10" stroke="#E83A10" stroke-width="0.35" d="M74.7 398.8L72.8 394.1L89.5 395.3L87.3 396.2L83.8 397.3L80.4 398L74.7 398.8Z"/>
<path class="mesh" d="M92.6 508.4L92.7 497L95.2 473L95.8 461.2L94.8 449.9L92.2 438.9L88.7 428L75.3 394.3M94.8 509L94.9 497.6L97.2 473.6L97.7 461.8L96.7 450.4L94.2 439.4L90.8 428.4L77.8 394.5M97 509.6L97.1 498.2L99.2 474.2L99.6 462.4L98.6 451L96.2 439.9L92.9 428.8L80.4 394.7M99.3 510.2L99.3 498.8L101.2 474.8L101.5 463L100.5 451.5L98.3 440.4L95.1 429.2L82.9 394.9M101.5 510.8L101.5 499.4L103.2 475.4L103.5 463.6L102.5 452.1L100.3 440.8L97.3 429.6L93.6 418.3L85.6 395M103.8 511.4L103.7 500L105.2 476.1L105.4 464.2L104.5 452.6L102.4 441.3L99.5 430L96 418.7L88.3 395.2M106.1 512.1L105.9 500.6L107.2 476.7L107.4 464.8L106.5 453.2L104.5 441.8L101.7 430.4L98.4 419L91 395.4M108.4 512.7L108.2 501.2L109.3 477.3L109.4 465.4L108.5 453.7L106.6 442.3L104 430.8L100.8 419.3L93.8 395.5M110.7 513.3L110.5 501.8L111.4 477.9L111.4 466L110.5 454.3L108.7 442.8L106.3 431.2L103.3 419.6L96.7 395.7M113 513.9L112.8 502.4L113.5 478.6L113.4 466.6L112.6 454.9L110.9 443.3L108.6 431.6L99.6 395.8M115.3 514.6L115.1 503.1L115.6 479.2L115.5 467.3L114.6 455.4L113.1 443.7L110.9 432L102.5 395.9M117.7 515.2L117.4 503.7L117.7 479.8L117.5 467.9L116.7 456L115.3 444.2L113.3 432.4L105.5 396M120.1 515.9L119.7 504.3L119.9 480.5L119.6 468.5L118.8 456.6L117.5 444.7L115.6 432.8L108.6 396.2M122.5 516.5L122.1 505L122 481.1L121.7 469.1L121 457.2L119.7 445.2L118 433.3L111.7 396.3M124.9 517.2L124.5 505.6L124.2 481.8L123.9 469.8L123.1 457.8L122 445.7L120.5 433.7L114.8 396.4M127.3 517.8L126.9 506.2L126.4 482.4L126 470.4L125.3 458.4L122.9 434.1L118 396.5M129.7 518.5L128.6 483.1L127.5 459L125.4 434.5L121.2 396.5M132.2 519.1L130.9 483.8L129.7 459.6L127.9 434.9L124.4 396.6M134.7 519.8L131.9 460.2L127.7 396.7M137.2 520.5L131 396.8M139.7 521.2L136.4 461.4L134.3 396.9M142.2 521.8L140 486.5L138.7 462L138 436.6L137.6 397M144.7 522.5L142.3 487.2L141 462.6L140.6 437L140.9 397.1M147.3 523.2L146.6 511.6L144.7 487.9L143.4 463.3L143.2 437.4L144.2 397.2M149.9 523.9L149.1 512.3L147.1 488.7L146.2 476.5L145.7 463.9L145.6 451L145.9 437.9L147.5 397.3M152.5 524.6L151.7 512.9L149.5 489.4L148.6 477.2L148.1 464.6L148.1 451.6L148.5 438.3L150.8 397.4M155.1 525.3L154.3 513.6L151.9 490.1L150.9 477.9L150.5 465.2L150.6 452.2L151.1 438.8L154.1 397.5M157.8 526.1L156.9 514.3L154.3 490.8L153.3 478.6L152.9 465.9L153.1 452.7L153.8 439.2L157.4 397.6M160.4 526.8L159.5 515.1L156.8 491.5L155.8 479.3L155.4 466.5L155.6 453.3L156.5 439.7L160.7 397.7M163.1 527.5L162.2 515.8L159.3 492.3L158.2 480L157.8 467.2L158.2 453.9L159.2 440.2L164 397.9M165.8 528.2L164.9 516.5L161.8 493L160.7 480.7L160.3 467.8L160.8 454.4L161.9 440.6L167.3 398M168.5 529L167.6 517.2L164.3 493.8L163.2 481.4L162.9 468.5L163.4 455L164.7 441.1L170.5 398.2M171.2 529.7L170.3 517.9L166.9 494.5L165.7 482.2L165.4 469.2L166 455.6L167.4 441.6L173.8 398.4M174 530.5L173 518.7L169.5 495.3L168.3 482.9L168 469.9L168.7 456.2L170.2 442.1L177 398.5M176.8 531.2L175.8 519.4L172.1 496L170.9 483.6L170.6 470.6L171.3 456.8L173 442.6L180.2 398.7M179.6 532L178.5 520.2L174.7 496.8L173.5 484.4L173.2 471.3L174 457.4L175.8 443.1L183.4 399M182.4 532.7L181.3 520.9L177.4 497.6L176.1 485.2L175.8 472L176.7 458.1L178.6 443.6L186.6 399.2M185.2 533.5L184.1 521.7L180.1 498.4L178.7 485.9L178.4 472.7L179.4 458.7L181.5 444.1L189.8 399.4M188.1 534.3L187 522.4L182.8 499.2L181.3 486.7L181.1 473.4L182.2 459.3L184.3 444.6L193 399.6M90.3 505.1L190.9 532M90.3 502.3L190.6 529M90.4 499.4L190.3 526.1M90.6 496.5L189.9 523.2M90.8 493.5L189.4 520.3M91.1 490.5L188.8 517.5M91.5 487.5L188.3 514.6M91.8 484.5L187.7 511.7M92.2 481.5L187.1 508.9M92.6 478.5L186.5 505.9M92.9 475.5L186 503M93.3 472.5L185.5 500M93.6 469.5L185 497M93.8 466.5L144.3 481.9L184.6 493.9M93.9 463.6L144.1 478.8L184.3 490.7M93.9 460.7L143.9 475.8L184 487.5M93.8 457.8L143.7 472.7L183.8 484.3M93.6 455L134.5 466.9L183.7 481M93.3 452.2L134.3 463.9L183.7 477.6M92.9 449.4L183.8 474.2M92.4 446.6L183.9 470.7M91.7 443.9L184.2 467.2M91 441.2L184.5 463.6M90.3 438.5L184.9 460M89.4 435.8L185.4 456.3M88.5 433.1L186 452.6M87.6 430.4L186.6 448.9M86.6 427.7L187.2 445.2M85.5 424.9L112.7 429.5L165.1 437.6L187.9 441.4M84.4 422.2L112.1 426.5L165.5 434L188.6 437.6M83.3 419.5L111.5 423.5L166 430.5L189.4 433.9M82.2 416.8L110.9 420.5L166.5 426.9L190.2 430.1M81 414L110.2 417.5L167 423.3L190.9 426.3M79.8 411.2L109.6 414.5L167.5 419.8L191.7 422.5M78.6 408.4L108.9 411.5L168 416.2L192.5 418.7M77.5 405.6L108.3 408.4L168.5 412.6L193.3 414.9M76.3 402.8L107.6 405.3L169 409L194 411.2M75.1 399.9L106.9 402.3L169.5 405.4L194.8 407.4M74 397L94.7 398.5L106.2 399.2L170 401.8L195.5 403.6"/>
<text x="204.1" y="381.3" class="tt" textLength="83.5" lengthAdjust="spacingAndGlyphs">Mode 6 (456.04 Hz)</text>
<rect x="205.4" y="393.8" width="57.10" height="79.30" class="lb"/>
<text x="210.5" y="403.80" class="lg">U, U3</text>
<rect x="210.5" y="408.80" width="7.9" height="4.98" fill="#E83A10"/>
<rect x="210.5" y="413.73" width="7.9" height="4.98" fill="#F06800"/>
<rect x="210.5" y="418.67" width="7.9" height="4.98" fill="#FAB40C"/>
<rect x="210.5" y="423.60" width="7.9" height="4.98" fill="#EEE814"/>
<rect x="210.5" y="428.53" width="7.9" height="4.98" fill="#9CD40C"/>
<rect x="210.5" y="433.47" width="7.9" height="4.98" fill="#6CC800"/>
<rect x="210.5" y="438.40" width="7.9" height="4.98" fill="#50BC14"/>
<rect x="210.5" y="443.33" width="7.9" height="4.98" fill="#60D060"/>
<rect x="210.5" y="448.27" width="7.9" height="4.98" fill="#90ECD4"/>
<rect x="210.5" y="453.20" width="7.9" height="4.98" fill="#50B8E0"/>
<rect x="210.5" y="458.13" width="7.9" height="4.98" fill="#4048B0"/>
<rect x="210.5" y="463.07" width="7.9" height="4.98" fill="#4A20A8"/>
<text x="239.00" y="410.55" class="lv">1.000</text>
<text x="239.00" y="415.48" class="lv">0.837</text>
<text x="239.00" y="420.42" class="lv">0.673</text>
<text x="239.00" y="425.35" class="lv">0.510</text>
<text x="239.00" y="430.28" class="lv">0.347</text>
<text x="239.00" y="435.22" class="lv">0.183</text>
<text x="239.00" y="440.15" class="lv">0.020</text>
<text x="239.00" y="445.08" class="lv">-0.143</text>
<text x="239.00" y="450.02" class="lv">-0.307</text>
<text x="239.00" y="454.95" class="lv">-0.470</text>
<text x="239.00" y="459.88" class="lv">-0.634</text>
<text x="239.00" y="464.82" class="lv">-0.797</text>
<text x="239.00" y="469.75" class="lv">-0.960</text>
<path d="M218.4 408.80h1.8M218.4 413.73h1.8M218.4 418.67h1.8M218.4 423.60h1.8M218.4 428.53h1.8M218.4 433.47h1.8M218.4 438.40h1.8M218.4 443.33h1.8M218.4 448.27h1.8M218.4 453.20h1.8M218.4 458.13h1.8M218.4 463.07h1.8M218.4 468.00h1.8" class="tk"/>
<path fill="#4a1fa3" d="M226.35 523.91L221.57 525.94L222.66 528.52L227.45 526.49Z"/>
<path fill="#4a1fa3" d="M220.90 524.38L215.56 528.17L216.89 531.30L223.33 530.09Z"/>
<path fill="#d22a1a" d="M226.67 526.43L235.80 528.17L235.48 529.84L242.13 528.10L236.59 524.05L236.27 525.72L227.13 523.97Z"/>
<path fill="#3cb31c" d="M228.10 525.20L228.10 513.70L230.10 513.70L226.90 507.40L223.70 513.70L225.70 513.70L225.70 525.20Z"/>
<text x="226.00" y="503.20" class="ax">Y</text>
<text x="246.40" y="529.90" class="ax">X</text>
<text x="211.40" y="532.80" class="ax">Z</text>
<path fill="#4C24A0" stroke="#4C24A0" stroke-width="0.35" d="M288 473.2L288.2 468.6L288 462.9L287.4 457.4L286.4 451.2L287.8 455L288.6 457.9L289.2 460.8L289.5 463.7L289.5 466.4L289.2 469.1L288.6 471.7L288 473.2ZM321.8 394.9L321 394.1L326.4 394.3L334.4 395L341 395.9L338.9 397.6L336.3 398.9L333.7 399.6L331.1 399.6L328.4 399L325.8 397.9L323.1 396.1L321.8 394.9ZM384.7 488.5L383.6 484.4L383.2 481.1L383.2 478L383.5 474.8L384.3 471.8L385.5 468.8L387.2 466.1L388.7 464.4L389.9 472.1L390.4 479.9L390.2 488L389.2 497.2L386.5 492.8L384.7 488.5Z"/>
<path fill="#4048B0" stroke="#4048B0" stroke-width="0.35" d="M287.2 480.5L288 473.2L288.9 470.4L289.4 467.8L289.5 463.7L289.2 460.8L288.6 457.9L287.8 455L286.4 451.2L284.5 443.8L287.4 448.6L289.5 453.2L291.3 459.2L292.1 465L292.2 467.8L292 470.5L291.1 474.5L290.1 476.6L289.2 478.1L287.2 480.5ZM315.4 395.6L314.4 393.9L321 394.1L323.1 396.1L325.8 397.9L328.4 399L329.7 399.4L332.4 399.6L335 399.3L336.7 398.8L338.9 397.6L341 395.9L345.3 396.8L343.1 400.2L341.8 401.6L339.2 403.7L337.9 404.5L335.2 405.5L333.9 405.7L331.3 405.9L328.7 405.6L326.1 404.9L323.5 403.6L322.1 402.8L319.7 400.8L318.1 399.2L315.4 395.6ZM377.6 480L377.7 476.1L378.1 473L378.9 470L380 467L381.6 464.3L383 462.5L384.4 461.1L387.4 458.9L388.7 464.4L386.3 467.3L385.5 468.8L384.4 471.5L383.5 474.8L383.2 479.5L383.6 484.4L385 489.4L386.5 492.8L389.2 497.2L388.1 504.3L385.5 501.4L383.7 498.9L381.8 495.9L380.2 492.4L379 489L378.2 485.7L377.6 480Z"/>
<path fill="#4AA6DC" stroke="#4AA6DC" stroke-width="0.35" d="M286.3 486.3L287.2 480.5L288.3 479.3L290 476.9L291.5 473.2L292.1 469.2L292.1 465L291.3 459.2L289.5 453.2L287.4 448.6L284.5 443.8L282.7 438.6L285.1 441L287.2 443.6L289.3 446.8L290.9 450L292.1 453L293.5 457.6L294.4 462L294.9 466.3L295 470.5L294.7 473.3L294.2 476L293.3 478.8L292.2 481L290.4 483.3L288.3 485.1L286.3 486.3ZM310.4 397.1L309 393.9L314.4 393.9L316.6 397.3L318.1 399.2L319.7 400.8L322.1 402.8L323.5 403.6L326.1 404.9L328.7 405.6L331.3 405.9L333.9 405.7L335.2 405.5L337.9 404.5L339.2 403.7L341.8 401.6L343.1 400.2L345.3 396.8L348.5 397.6L346.4 402.4L344.7 405.2L343.2 407L340.8 409.2L338.1 410.8L335.5 411.7L332.9 412.2L330.3 412.2L326.4 411.6L323.8 410.8L321.1 409.5L318.5 407.7L316.3 405.7L314.5 403.7L312.3 400.5L310.4 397.1ZM372.1 482.4L372 477.5L372.4 472.8L373.4 468.2L375.2 463.7L377 460.8L379.6 458L381.3 456.7L383.1 455.6L386 454.3L387.4 458.9L384.4 461.1L383 462.5L381.6 464.3L380 467L378.9 470L378.1 473L377.7 476.1L377.6 479.3L377.7 482.5L378.2 485.7L379 489L380.2 492.4L381.8 495.9L383.7 498.9L385.5 501.4L388.1 504.3L387 510.6L384.1 508.1L381.2 505L379.1 502.4L376.8 498.8L375.1 495.3L373.8 491.5L372.7 487L372.1 482.4Z"/>
<path fill="#70DEC8" stroke="#70DEC8" stroke-width="0.35" d="M285.3 491.8L286.3 486.3L288.3 485.1L290.4 483.3L292.2 481L293.4 478.5L294.2 476L294.7 473.3L295 470.5L294.9 466.3L294.4 462L293.5 457.6L292.1 453L290.9 450L289.3 446.8L287.2 443.6L285.1 441L282.7 438.6L281 434.2L284.5 436.7L288.1 440.1L290.6 443.4L292.4 446.6L294.3 451.3L295.7 455.9L296.9 461.9L297.6 467.7L297.8 473.4L297.5 477.5L296.7 481.5L295.7 484.1L294.7 485.8L293.7 487.2L291.6 489.1L289 490.7L285.3 491.8ZM305.4 397.8L304.1 393.9L309 393.9L311.3 398.8L313.2 401.9L315.9 405.3L318.5 407.7L321.1 409.5L325.1 411.3L327.7 411.9L331.6 412.3L334.2 412L336.8 411.3L339.4 410.1L340.8 409.2L343.2 407L344.7 405.2L346.4 402.4L348.5 397.6L351.2 398.4L349.9 403.3L348 408.1L346.2 411.2L343.7 414.2L341.1 416.2L338.4 417.5L334.5 418.5L330.6 418.7L327.9 418.5L325.3 418L321.4 416.8L317.5 414.9L314.9 413L312.3 410.5L309.6 406.9L307 402.1L305.4 397.8ZM366.8 485.5L366.5 478.8L366.6 474.1L367 471L368.2 464.9L369.9 460.3L371.7 457.4L372.9 456L374.3 454.6L375.9 453.3L378.3 452L380.3 451.2L384.7 450L386 454.3L383.5 455.4L381.6 456.4L378.8 458.7L377.3 460.3L376 462.2L374.5 465.2L373.4 468.2L372.7 471.2L372.2 474.3L372 479L372.3 483.8L373 488.6L374.5 493.6L375.9 497L377.8 500.6L380.5 504.3L384.1 508.1L387 510.6L385.9 516.7L381.6 513.7L378.2 510.9L374.5 506.9L372.1 503.3L370.3 499.8L368.5 494.8L367.4 489.9L366.8 485.5Z"/>
<path fill="#60D060" stroke="#60D060" stroke-width="0.35" d="M284.5 497.7L285.3 491.8L289 490.7L291.6 489.1L293.7 487.2L294.7 485.8L295.7 484L296.7 481.5L297.5 477.5L297.8 473.4L297.6 467.7L296.9 461.9L295.7 455.9L294.3 451.3L292.4 446.6L290.6 443.4L288.1 440.1L284.5 436.7L281 434.2L279.3 430.2L284 432.3L288 435L291.2 438L293.7 441.8L295.8 446.5L296.9 449.6L298 454.2L299.4 461.7L300.4 470.5L300.7 477.7L300.5 483.2L300.1 486L299.5 488.6L298.3 491.8L297.3 493.3L296.2 494.4L294.5 495.6L293 496.4L290.9 497L288.7 497.4L284.5 497.7ZM300.3 397.6L299.5 393.9L304.1 393.9L305.7 398.8L308.2 404.5L310.9 408.9L313.6 411.9L314.9 413L317.5 414.9L321.4 416.8L325.3 418L327.9 418.5L330.6 418.7L334.5 418.5L337.1 417.9L339.7 416.9L342.4 415.3L345.1 412.7L346.3 411.1L347.6 408.9L348.9 406L349.9 403.3L351.2 398.4L353.6 399.1L352.6 405.8L351 412.3L349.3 416.5L348.1 418.6L347 420.1L345.5 421.6L344.1 422.7L341.4 424L337.4 425L332.1 425.3L325.6 424.7L321.7 423.9L319.1 423.1L316.6 422.2L314 420.9L311.4 419.3L310.1 418.3L307.2 415.1L304.8 411.1L302.4 405.2L300.3 397.6ZM361.6 492.9L361.1 487.9L360.8 481.6L360.9 475.4L361.2 470.7L361.7 466.1L362.6 461.4L363.4 458.4L364.6 455.3L366 452.9L367.4 451.1L369.1 449.6L371.2 448.3L373.1 447.5L376 446.7L378.9 446.2L383.4 445.9L384.7 450L380.3 451.2L378.3 452L375.9 453.3L374.3 454.6L372.9 456L371.7 457.4L369.9 460.3L368.2 464.9L367.2 469.4L366.6 474.1L366.5 480.3L366.9 486.7L367.7 491.5L369 496.4L370.3 499.8L372.9 504.6L376.2 508.9L380.6 513L385.9 516.7L384.8 523.4L379.1 520.4L374.8 517.7L370.5 514L367.8 510.9L365.6 507.3L364.1 503.9L362.7 499L361.6 492.9Z"/>
<path fill="#56C21C" stroke="#56C21C" stroke-width="0.35" d="M284 507.1L284 503L284.5 497.7L289.8 497.2L292 496.7L294.1 495.9L295.9 494.6L297.1 493.5L298.6 491.1L299.9 487.3L300.5 483.2L300.7 477.7L300.4 470.5L299.4 461.7L298 454.2L296.9 449.6L295.8 446.5L293.7 441.8L291.2 438L288 435L284 432.3L279.3 430.2L277.6 426.3L286.8 428.3L291.5 429.9L294 431.4L294.9 432.3L296.2 434L297 435.6L297.9 438.1L298.9 441.8L300.8 452.5L302.6 466L305.1 489.4L306.1 496.7L307.2 501.1L307.9 503.2L309.2 505.3L310.5 506.8L312.9 508.7L315.4 510L319 511.7L323.9 513.4L328.8 514.9L335.1 516.4L340.2 517.4L342.7 517.8L346.6 517.9L349.1 517.6L350.5 517.2L351.8 516.3L352.5 515.5L353 514.7L353.7 512.9L354.2 510L354.6 504.1L355.1 475.1L355.8 459.4L356.8 449.9L357.5 446.8L358.8 443.9L360.1 442.4L361.5 441.5L362.9 441L365.8 440.6L371.6 440.6L382.1 441.6L383.4 445.9L378.9 446.2L376 446.7L374.2 447.1L371.6 448.1L369.1 449.6L367.5 451L365.4 453.9L364.6 455.3L363.4 458.4L362 464.5L361.1 472.3L360.8 481.6L361.2 489.4L362 495.8L363.2 501.1L364.8 505.6L366.2 508.4L367.8 510.9L369.3 512.8L371.9 515.4L374.8 517.7L377.6 519.6L384.8 523.4L384.1 529.5L384 534.2L284 507.1ZM297.2 409.1L295.1 394L299.5 393.9L300.6 398.7L301.9 403.6L304.3 410.1L306.1 413.4L307.2 415.1L308.8 417L310.6 418.6L313.3 420.6L316.6 422.2L319.1 423.1L323 424.2L326.9 424.9L330.8 425.2L334.8 425.2L337.4 425L340.8 424.2L343.6 423L345.5 421.6L346.7 420.4L348 418.8L349.8 415.5L351.5 410.7L352.6 405.8L353.6 399.1L355.9 399.9L355.5 408.4L355 416L354.4 421.7L353.4 426.5L352.6 428.7L351.3 430.7L350 431.8L347.2 432.8L344.5 433.1L339.1 432.9L333.8 432.5L325.9 431.4L313.1 429.2L309.3 428.2L305.6 426.8L303.1 425.1L302.2 424.3L300.4 421.5L299 417.3L297.2 409.1Z"/>
<path fill="#60C80A" stroke="#60C80A" stroke-width="0.35" d="M277.6 426.3L275.9 422.4L281.1 421.9L284.7 420.9L287.1 419.4L288.1 418.4L289 417L290 414.1L290.7 409.6L290.9 403.4L290.6 394L295.1 394L297.1 408.2L299.1 417.7L300.2 420.9L301 422.6L302.2 424.3L304.3 426.1L306.8 427.3L311.8 428.9L318.2 430.2L327.2 431.6L335.1 432.6L341.7 433.1L345.9 433L348.6 432.4L350 431.8L351.3 430.7L352.6 428.7L353.4 426.5L354.4 421.7L355 416L355.5 408.4L355.9 399.9L358.2 400.6L359 411L359.9 418L361.3 423.2L363 426.8L364.3 428.7L365.7 430.1L369.1 432.7L374.1 435.1L380.7 437.3L382.1 441.6L371.6 440.6L367.2 440.5L364.4 440.7L361.5 441.5L360.2 442.3L358.9 443.8L358.1 445.3L357.1 448.4L356.6 451.5L355.6 462.6L355.1 475.1L354.7 501.1L354.4 508.6L353.7 512.9L353 514.7L351.8 516.3L350.5 517.2L349.2 517.6L347.9 517.8L345.3 517.9L338.9 517.2L331.3 515.6L322.7 513L316.6 510.6L312.9 508.7L310.5 506.8L309.2 505.3L307.9 503.2L307.2 501.1L306.1 496.7L305.1 489.4L302.6 466L300.8 452.5L298.9 441.8L297.9 438.1L297 435.6L296.2 434L294.9 432.3L294 431.4L291.5 429.9L286.8 428.3L277.6 426.3ZM305.4 465.9L307.2 477.9L309.1 485.5L310.4 489.1L311.8 491.9L313.1 494.1L315.7 497.2L318.2 499.4L322 501.7L325.7 503.3L330.7 504.6L334.5 504.8L338.3 504.3L340.8 503.3L342.1 502.5L343.3 501.3L344.6 499.7L345.8 497.4L346.9 494.2L347.5 491.3L348.2 486.9L348.6 482.3L348.8 476.2L348.9 470L348.3 460.4L347.8 457.2L347.1 453.9L346.6 452.2L345.2 449.1L343.8 446.9L342.3 445.4L339.5 443.2L336.8 441.8L332.8 440.3L327.5 439L322.3 438.2L317.2 437.8L313.5 438.1L311.4 438.6L309.8 439.2L308.7 439.9L307.5 440.9L306.5 442.3L305.9 443.7L305.1 446.6L304.8 449.5L304.6 454L304.9 459.9L305.4 465.9Z"/>
<path fill="#9CD40C" stroke="#9CD40C" stroke-width="0.35" d="M275.9 422.4L274.2 418.3L277.5 417L278.9 416.2L280.6 414.9L281.8 413.6L282.8 412.2L284.1 409.3L284.9 406.3L285.4 403.3L286.2 394.1L290.6 394L290.9 403.4L290.7 409.6L290 414.1L289 417L288.1 418.4L287.1 419.4L284.7 420.9L281.1 421.9L275.9 422.4ZM305.5 466.2L304.9 459.9L304.6 454L304.8 449.5L305.1 446.6L305.9 443.7L306.5 442.3L307.5 440.9L308.7 439.9L309.8 439.2L311.4 438.6L313.5 438.1L317.2 437.8L322.3 438.2L327.5 439L332.8 440.3L336.8 441.8L339.5 443.2L342.3 445.4L343.8 446.9L345.2 449.1L346.6 452.2L347.1 453.9L347.8 457.2L348.3 460.4L348.9 470L348.8 476.2L348.6 482.3L348.2 486.9L347.5 491.3L346.9 494.2L345.8 497.4L344.6 499.7L343.3 501.3L342.1 502.5L340.8 503.3L338.3 504.3L335.8 504.8L332 504.7L327 503.7L323.2 502.3L319.5 500.3L316.9 498.4L314.4 495.8L312.7 493.5L310.9 490.3L309.7 487.1L308.3 482.5L307.2 477.9L305.5 466.2ZM310.5 475.1L312.2 480.8L313.9 484.6L316.2 488.3L317.5 489.8L320.1 492.1L323.9 494.3L326.5 495.2L329 495.5L331.5 495.4L332.7 495.1L335.2 494L336.5 493L337.7 491.6L338.9 489.7L339.9 487.5L340.8 484.6L341.7 478.7L341.9 472.6L341.3 466.2L340.3 461.3L339 458L338.1 456.2L336 453.2L333.3 450.7L330.5 448.9L327.9 447.7L323.9 446.7L320.1 446.4L317.6 446.7L315.1 447.5L313.2 448.7L311.6 450.5L310.4 452.8L309.5 455.6L309.1 458.6L308.9 461.5L309.1 466L309.6 470.5L310.5 475.1ZM359.4 414.4L358.2 400.6L360.6 401.4L361.9 408.5L363.2 413.8L364.4 417.4L366.1 421L368.6 424.8L371.7 427.9L374.7 430.1L379.3 432.7L380.7 437.3L376.1 435.9L371.6 434L368.6 432.4L365.7 430.1L364.3 428.7L363 426.8L361.3 423.2L360.3 419.7L359.4 414.4Z"/>
<path fill="#EEE814" stroke="#EEE814" stroke-width="0.35" d="M274.2 418.3L272.4 413.8L274.6 412.2L276.3 410.4L277.7 408.4L278.7 406.4L280.2 401.7L281.5 394.1L286.2 394.1L285.8 400.3L285.2 404.8L284.5 407.8L283.5 410.8L281.8 413.6L279.7 415.7L277.5 417L274.2 418.3ZM310.7 476L309.9 472L309.2 467.5L308.9 463L309.1 458.6L309.5 455.6L310.4 452.8L311.6 450.5L312.8 449.1L315.1 447.5L317.6 446.7L320.1 446.4L323.9 446.7L327.9 447.7L330.5 448.9L333.2 450.6L335.5 452.6L337 454.5L338.1 456.2L339 458L340.3 461.3L341.3 466.2L341.9 472.6L341.7 478.7L340.8 484.6L339.9 487.5L338.9 489.7L337.7 491.6L336.5 493L335.2 494L333.2 495L331.5 495.4L329.4 495.5L327.7 495.4L325.2 494.8L321.4 493L319.6 491.8L317.5 489.8L314.9 486.4L313.6 484L312.4 481.4L310.7 476ZM316.1 474.2L316.6 475.8L318.4 479.1L319.7 480.9L322 482.9L324.5 484L325.8 484.1L327.1 484L328.3 483.6L329.2 483L330.4 481.8L331.9 479L332.6 476.1L332.8 473.1L332.6 470L331.8 466.8L330.3 463.4L329 461.6L327.1 459.8L324.5 458.3L321.9 457.9L320.6 458L319.4 458.3L318.2 459.1L317 460.3L315.9 462.3L315.2 465L315.1 466.5L315.1 469.5L316.1 474.2ZM362.3 410.4L360.6 401.4L363.3 402.2L365.4 409.4L366.7 413.1L368.4 416.8L370.1 419.6L372.3 422.4L374.8 425.1L377.9 427.6L379.3 432.7L376 430.9L373.2 429.1L370.4 426.7L368.6 424.8L367.1 422.7L365.1 419.2L363.7 415.6L362.3 410.4Z"/>
<path fill="#FAB40C" stroke="#FAB40C" stroke-width="0.35" d="M272.4 413.8L270.6 408.6L272.5 406L274 403.1L275.5 398.8L276.7 394.1L281.5 394.1L280.2 401.7L278.7 406.4L277.7 408.4L276.3 410.4L274.6 412.2L272.4 413.8ZM316.6 475.7L315.3 471.1L315 468L315.2 465L315.5 463.6L315.9 462.2L316.6 460.8L318.2 459.1L319.4 458.3L320.6 458L323.2 458L325.8 458.9L327.1 459.8L328.5 461L329.8 462.7L331.3 465.3L332.3 468.4L332.8 471.6L332.8 474.6L332.3 477.6L331.3 480.4L330.4 481.8L329.5 482.7L328.3 483.6L327 484L325.8 484.1L324.5 484L322 482.9L319.7 480.9L318 478.6L316.6 475.7ZM363.7 403.8L363.3 402.2L366.4 403.1L368.5 408.8L371.1 414.2L373.5 418L376.5 421.7L377.9 427.6L374.8 425.1L373.3 423.6L371.7 421.8L369.5 418.6L366.7 413.1L365.4 409.4L363.7 403.8Z"/>
<path fill="#F06800" stroke="#F06800" stroke-width="0.35" d="M270.6 408.6L268.6 402.1L270.1 398.6L271.6 394.1L276.7 394.1L275.5 398.8L274 403.1L272.5 406L270.6 408.6ZM366.9 404.5L366.4 403.1L369.8 404L372.4 409.6L375 414.2L376.5 421.7L373.5 418L371.1 414.2L369.3 410.5L366.9 404.5Z"/>
<path fill="#E83A10" stroke="#E83A10" stroke-width="0.35" d="M268.6 402.1L266.5 394.1L271.6 394.1L270.1 398.6L268.6 402.1ZM370.1 404.7L369.8 404L373.4 404.9L375 414.2L372.4 409.6L370.1 404.7Z"/>
<path class="mesh" d="M286.2 507.7L286.8 496.2L288.5 484.1L289.6 472.2L289.2 460.9L287.4 449.9L284.5 439.1L276.3 417.4L272.7 406L269.7 394.1M288.4 508.3L288.8 496.8L290.2 484.8L291.1 473L290.7 461.6L289 450.5L286.3 439.6L278.9 417.6L275.6 406.1L272.9 394.1M290.6 508.9L290.8 497.5L292 485.5L292.7 473.7L292.2 462.3L290.6 451.2L288.1 440.1L281.6 417.8L278.6 406.2L276.2 394.1M292.8 509.5L292.9 498.1L293.8 486.3L294.3 474.5L293.8 463.1L292.3 451.8L290 440.7L284.2 418L281.6 406.2L279.5 394.1M295 510.1L295 498.8L295.6 487L295.9 475.3L295.3 463.8L293.9 452.5L291.9 441.2L286.9 418.3L284.7 406.3L282.8 394.1M297.3 510.7L297.1 499.4L297.5 476.1L296.9 464.6L295.6 453.2L289.5 418.5L286.3 394.1M299.6 511.4L299.2 500.1L299.1 476.9L298.4 465.3L297.2 453.8L292.2 418.7L289.7 394M301.8 512L300.7 477.7L300 466.1L294.9 418.9L293.2 394M304.1 512.6L302.4 478.5L298.4 431.4L297.7 419.2L296.8 394M306.4 513.2L301.4 444L300.7 431.8L300.4 419.4L300.3 393.9M308.8 513.9L304.8 468.5L303.3 444.6L303.1 432.2L303.1 419.6L303.8 393.9M311.1 514.5L306.5 469.2L305.7 457.3L305.4 445.1L305.4 432.6L305.9 419.9L307.3 393.9M313.5 515.1L312.4 504L309.5 481.6L308.3 470L307.6 458L307.4 445.7L307.8 433L308.6 420.1L310.7 393.9M315.9 515.8L314.7 504.7L311.4 482.4L310.2 470.7L309.5 458.7L309.5 446.2L310.2 433.4L314 393.9M318.2 516.4L317 505.3L313.4 483.1L312.1 471.5L311.5 459.3L311.7 446.8L312.6 433.8L317.2 394M320.7 517.1L319.3 506L315.5 483.8L314.2 472.2L313.6 460L314 447.3L315.1 434.2L320.4 394M323.1 517.7L321.7 506.7L317.7 484.5L316.4 472.8L315.8 460.6L316.3 447.8L317.6 434.6L323.4 394.1M325.5 518.4L324.1 507.3L320 485.2L318.6 473.4L318.2 461.1L318.7 448.3L320.1 435L326.4 394.3M328 519.1L326.6 508L322.4 485.8L321 474L320.6 461.7L321.2 448.8L322.7 435.4L329.2 394.5M330.5 519.7L329.1 508.6L324.9 486.4L323.5 474.6L323.1 462.2L323.7 449.2L325.2 435.8L331.9 394.7M333 520.4L331.6 509.2L327.5 486.9L326.1 475.1L325.7 462.7L326.3 449.7L327.9 436.2L334.4 395M335.5 521.1L334.2 509.9L330.2 487.5L328.8 475.6L328.4 463.1L329 450.1L330.5 436.6L336.9 395.3M338 521.8L336.8 510.5L333 487.9L331.7 476L331.3 463.5L331.8 450.5L333.2 437L339.2 395.6M340.6 522.5L339.4 511.1L335.8 488.4L334.6 476.4L334.2 463.9L334.7 450.8L335.9 437.4L341.4 396M343.1 523.2L342 511.7L338.8 488.8L337.7 476.8L337.2 464.2L337.6 451.2L338.6 437.8L343.5 396.4M345.7 523.9L344.7 512.4L341.9 489.2L340.8 477.1L340.4 464.6L340.5 451.6L341.4 438.2L345.6 396.9M348.3 524.6L347.5 513L345 489.6L344.1 477.4L343.6 464.8L343.6 451.9L344.2 438.6L347.6 397.4M350.9 525.3L350.2 513.6L348.2 489.9L347.4 477.7L346.8 465.1L346.7 452.2L347 439L347.6 425.4L349.5 397.9M353.6 526L350.8 477.9L349.8 452.5L349.8 439.4L350.1 425.9L351.3 398.4M356.2 526.7L353 452.8L352.7 439.7L352.6 426.4L353.2 399M358.9 527.4L358.2 490.8L357.7 478.3L355.6 440.1L355.2 426.9L355 399.6M361.6 528.2L361.6 491L361.3 478.5L357.7 427.4L356.8 400.2M364.4 528.9L364.4 516.6L365 491.3L364.8 478.7L364 466.2L360.3 427.9L358.7 400.8M367.1 529.6L367.3 517.2L368.5 491.6L368.4 478.9L367.6 466.4L362.9 428.4L360.6 401.4M369.9 530.4L370.2 517.9L372 491.8L372.1 479L371.2 466.5L369.5 454.2L365.5 428.9L363.9 415.6L362.6 402M372.6 531.2L373.2 518.5L375.5 492L375.7 479.2L374.8 466.7L372.9 454.5L368.1 429.4L366.2 416.2L364.6 402.6M375.4 531.9L376.2 519.1L379.1 492.3L379.4 479.4L378.4 466.9L376.2 454.8L370.8 429.9L368.5 416.8L366.7 403.2M378.3 532.7L379.2 519.7L382.6 492.6L383.1 479.5L382 467.1L379.6 455L373.5 430.4L370.9 417.4L368.9 403.8M381.1 533.4L382.2 520.3L384.3 506.5L386.1 492.8L386.7 479.7L385.6 467.3L383 455.3L376.2 431L373.4 418L371.1 404.3M283.9 504.4L384 531.1M284 501.5L329.9 514.1L384.3 527.8M284.3 498.6L310.4 506.1L329.5 511.3L350.4 516.5L384.7 524.4M284.7 495.6L310.1 503.4L329.1 508.6L350.2 513.6L385.2 521M285.2 492.5L309.8 500.6L328.6 505.9L350 510.7L385.8 517.5M285.7 489.5L309.5 497.8L318.4 500.5L328 503.1L338.5 505.5L349.7 507.7L386.4 514M286.2 486.4L309.2 495L317.9 497.8L327.5 500.4L338 502.7L349.5 504.8L387 510.4M286.7 483.4L308.9 492.2L317.4 495L326.9 497.6L337.6 499.9L349.2 501.8L387.7 506.9M287.2 480.4L308.6 489.4L316.9 492.3L326.4 494.9L337.1 497L349 498.9L388.2 503.4M287.6 477.4L308.2 486.5L316.4 489.5L325.9 492.1L336.7 494.2L348.7 495.9L388.8 499.9M287.9 474.4L307.9 483.7L316 486.7L325.4 489.2L336.2 491.3L348.5 492.9L389.3 496.5M288.1 471.5L307.6 480.8L315.5 483.8L324.9 486.4L335.8 488.4L348.2 489.9L389.7 493.1M288.2 468.6L307.3 478L315.1 481L324.5 483.5L335.5 485.4L348 486.9L390 489.7M288.1 465.7L307.1 475.1L314.8 478.1L324.1 480.6L335.2 482.5L347.8 483.8L390.3 486.4M288 462.9L306.8 472.2L314.5 475.1L323.8 477.6L334.9 479.5L347.6 480.7L390.4 483.1M287.8 460.1L306.5 469.2L314.2 472.2L323.5 474.6L334.6 476.4L347.4 477.7L390.4 479.9M287.4 457.4L306.3 466.3L314 469.2L323.3 471.5L334.4 473.3L347.2 474.6L390.3 476.7M287 454.6L306.1 463.3L313.8 466.1L323.2 468.5L334.3 470.2L347.1 471.4L390.1 473.6M286.5 451.9L305.9 460.4L313.7 463.1L323.1 465.3L334.2 467.1L346.9 468.3L389.7 470.5M285.9 449.2L305.7 457.3L313.6 460L323.1 462.2L334.2 463.9L346.8 465.1L389.3 467.5M285.2 446.5L305.6 454.3L313.6 456.8L323.1 459L334.2 460.7L346.8 461.9L388.7 464.5M284.5 443.9L305.5 451.3L313.7 453.7L323.3 455.8L334.3 457.4L346.7 458.7L388 461.5M283.6 441.2L305.4 448.2L313.8 450.5L323.5 452.5L334.5 454.2L346.7 455.5L387.3 458.6M282.7 438.6L305.4 445.1L314 447.3L323.7 449.2L334.7 450.8L346.7 452.2L386.4 455.6M281.7 435.9L305.3 442L314.2 444.1L324 445.9L334.9 447.5L346.7 448.9L385.6 452.7M280.6 433.3L305.3 438.9L324.4 442.6L346.8 445.6L384.6 449.7M279.5 430.6L305.4 435.8L324.8 439.2L346.9 442.3L383.7 446.8M278.4 428L325.2 435.8L382.7 443.8M277.2 425.3L381.8 440.8M276.1 422.6L326.2 429L380.8 437.7M274.9 419.9L305.7 423.1L326.8 425.6L347.4 428.8L379.9 434.6M273.8 417.2L305.9 419.9L327.3 422.2L347.6 425.4L379 431.5M272.7 414.4L306 416.6L317.2 417.6L327.9 418.7L338.1 420.2L347.8 422L378.1 428.3M271.6 411.6L306.2 413.4L317.6 414.2L328.5 415.3L338.5 416.8L348 418.6L377.3 425.1M270.6 408.7L306.3 410.2L318.1 410.9L329 411.9L339 413.3L348.3 415.2L376.5 421.9M269.7 405.9L306.5 406.9L318.5 407.5L329.6 408.4L339.5 409.9L348.5 411.7L375.8 418.5M268.9 403L306.7 403.7L319 404.1L330.2 405L340 406.4L348.7 408.3L375.2 415.2M268 400L306.9 400.4L319.5 400.8L330.7 401.6L340.4 402.9L349 404.8L374.6 411.8M267.3 397L307.1 397.2L319.9 397.4L331.3 398.1L340.9 399.5L349.2 401.4L365 406L374 408.4"/>
<g class="fr"><path d="M4.9 5.5H391.2V544.5H4.9Z M198 5.5V544.5 M4.9 185.3H391.2 M4.9 364.3H391.2"/></g>
</svg>
</body></html>
